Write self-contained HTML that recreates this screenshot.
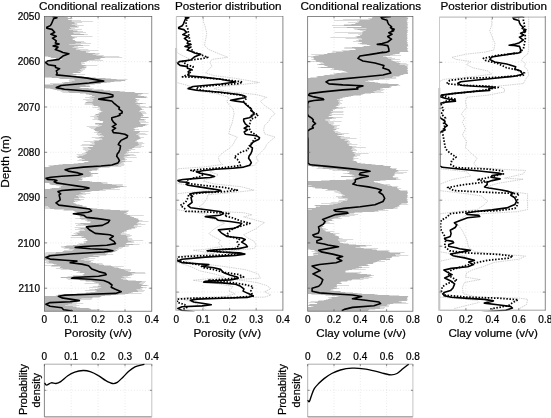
<!DOCTYPE html>
<html><head><meta charset="utf-8"><title>figure</title><style>html,body{margin:0;padding:0;background:#fff;overflow:hidden}</style></head><body>
<svg width="551" height="418" viewBox="0 0 551 418" style="display:block;position:absolute;left:0;top:0">
<rect width="551" height="418" fill="#fff"/>
<clipPath id="c0"><rect x="44.4" y="16.4" width="107.4" height="294.8"/></clipPath>
<g clip-path="url(#c0)"><line x1="71.2" y1="16.4" x2="71.2" y2="311.2" stroke="#d6d6d6" stroke-width="0.7" stroke-dasharray="0.7 2.1"/><line x1="98.1" y1="16.4" x2="98.1" y2="311.2" stroke="#d6d6d6" stroke-width="0.7" stroke-dasharray="0.7 2.1"/><line x1="125.0" y1="16.4" x2="125.0" y2="311.2" stroke="#d6d6d6" stroke-width="0.7" stroke-dasharray="0.7 2.1"/><line x1="44.4" y1="61.7" x2="151.8" y2="61.7" stroke="#d6d6d6" stroke-width="0.7" stroke-dasharray="0.7 2.1"/><line x1="44.4" y1="107.0" x2="151.8" y2="107.0" stroke="#d6d6d6" stroke-width="0.7" stroke-dasharray="0.7 2.1"/><line x1="44.4" y1="152.3" x2="151.8" y2="152.3" stroke="#d6d6d6" stroke-width="0.7" stroke-dasharray="0.7 2.1"/><line x1="44.4" y1="197.6" x2="151.8" y2="197.6" stroke="#d6d6d6" stroke-width="0.7" stroke-dasharray="0.7 2.1"/><line x1="44.4" y1="242.9" x2="151.8" y2="242.9" stroke="#d6d6d6" stroke-width="0.7" stroke-dasharray="0.7 2.1"/><line x1="44.4" y1="288.2" x2="151.8" y2="288.2" stroke="#d6d6d6" stroke-width="0.7" stroke-dasharray="0.7 2.1"/><polygon points="44.4,16.4 44.4,16.9 44.4,16.9 44.4,17.4 44.4,17.4 44.4,17.9 44.4,17.9 44.4,18.4 44.4,18.4 44.4,18.9 44.4,18.9 44.4,19.4 44.4,19.4 44.4,19.9 44.4,19.9 44.4,20.4 44.4,20.4 44.4,20.9 44.4,20.9 44.4,21.4 44.4,21.4 44.4,21.9 44.4,21.9 44.4,22.4 44.4,22.4 44.4,22.9 44.4,22.9 44.4,23.4 44.4,23.4 44.4,23.9 44.4,23.9 44.4,24.4 44.4,24.4 44.4,24.9 44.4,24.9 44.4,25.4 44.4,25.4 44.4,25.9 44.4,25.9 44.4,26.4 44.4,26.4 44.4,26.9 44.4,26.9 44.4,27.4 44.4,27.4 44.4,27.9 44.4,27.9 44.4,28.4 44.4,28.4 44.4,28.9 44.4,28.9 44.4,29.4 44.4,29.4 44.4,29.9 44.4,29.9 44.4,30.4 44.4,30.4 44.4,30.9 44.4,30.9 44.4,31.4 44.4,31.4 44.4,31.9 44.4,31.9 44.4,32.4 44.4,32.4 44.4,32.9 44.4,32.9 44.4,33.4 44.4,33.4 44.4,33.9 44.4,33.9 44.4,34.4 44.4,34.4 44.4,34.9 44.4,34.9 44.4,35.4 44.4,35.4 44.4,35.9 44.4,35.9 44.4,36.4 44.4,36.4 44.4,36.9 44.4,36.9 44.4,37.4 44.4,37.4 44.4,37.9 44.4,37.9 44.4,38.4 44.4,38.4 44.4,38.9 44.4,38.9 44.4,39.4 44.4,39.4 44.4,39.9 44.4,39.9 44.4,40.4 44.4,40.4 44.4,40.9 44.4,40.9 44.4,41.4 44.4,41.4 44.4,41.9 44.4,41.9 44.4,42.4 44.4,42.4 44.4,42.9 44.4,42.9 44.4,43.4 44.4,43.4 44.4,43.9 44.4,43.9 44.4,44.4 44.4,44.4 44.4,44.9 44.4,44.9 44.4,45.4 44.4,45.4 44.4,45.9 44.4,45.9 44.4,46.4 44.4,46.4 44.4,46.9 44.4,46.9 44.4,47.4 44.4,47.4 44.4,47.9 44.4,47.9 44.4,48.4 44.4,48.4 44.4,48.9 44.4,48.9 44.4,49.4 44.4,49.4 44.4,49.9 44.4,49.9 44.4,50.4 44.4,50.4 44.4,50.9 44.4,50.9 44.4,51.4 44.4,51.4 44.4,51.9 44.4,51.9 44.4,52.4 44.4,52.4 44.4,52.9 44.4,52.9 44.4,53.4 44.4,53.4 44.4,53.9 44.4,53.9 44.4,54.4 44.4,54.4 44.4,54.9 44.4,54.9 44.4,55.4 44.4,55.4 44.4,55.9 44.4,55.9 44.4,56.4 48.1,56.4 48.1,56.9 50.9,56.9 50.9,57.4 50.7,57.4 50.7,57.9 56.4,57.9 56.4,58.4 55.6,58.4 55.6,58.9 62.2,58.9 62.2,59.4 60.5,59.4 60.5,59.9 49.6,59.9 49.6,60.4 54.8,60.4 54.8,60.9 50.6,60.9 50.6,61.4 49.3,61.4 49.3,61.9 44.4,61.9 44.4,62.4 44.4,62.4 44.4,62.9 44.4,62.9 44.4,63.4 44.4,63.4 44.4,63.9 44.4,63.9 44.4,64.4 44.4,64.4 44.4,64.9 44.4,64.9 44.4,65.4 44.4,65.4 44.4,65.9 44.4,65.9 44.4,66.4 44.4,66.4 44.4,66.9 44.4,66.9 44.4,67.4 44.4,67.4 44.4,67.9 44.4,67.9 44.4,68.4 44.4,68.4 44.4,68.9 44.4,68.9 44.4,69.4 44.4,69.4 44.4,69.9 44.4,69.9 44.4,70.4 44.4,70.4 44.4,70.9 44.4,70.9 44.4,71.4 44.4,71.4 44.4,71.9 44.4,71.9 44.4,72.4 44.4,72.4 44.4,72.9 44.4,72.9 44.4,73.4 44.4,73.4 44.4,73.9 44.4,73.9 44.4,74.4 44.4,74.4 44.4,74.9 44.4,74.9 44.4,75.4 44.4,75.4 44.4,75.9 44.4,75.9 44.4,76.4 44.4,76.4 44.4,76.9 44.4,76.9 44.4,77.4 51.8,77.4 51.8,77.9 58.8,77.9 58.8,78.4 60.2,78.4 60.2,78.9 69.5,78.9 69.5,79.4 74.4,79.4 74.4,79.9 68.7,79.9 68.7,80.4 74.7,80.4 74.7,80.9 69.2,80.9 69.2,81.4 71.9,81.4 71.9,81.9 64.6,81.9 64.6,82.4 61.8,82.4 61.8,82.9 63.2,82.9 63.2,83.4 49.9,83.4 49.9,83.9 53.0,83.9 53.0,84.4 44.4,84.4 44.4,84.9 44.4,84.9 44.4,85.4 44.4,85.4 44.4,85.9 44.4,85.9 44.4,86.4 44.4,86.4 44.4,86.9 44.4,86.9 44.4,87.4 44.4,87.4 44.4,87.9 45.7,87.9 45.7,88.4 50.4,88.4 50.4,88.9 52.7,88.9 52.7,89.4 54.8,89.4 54.8,89.9 57.1,89.9 57.1,90.4 61.8,90.4 61.8,90.9 68.1,90.9 68.1,91.4 60.6,91.4 60.6,91.9 62.4,91.9 62.4,92.4 69.4,92.4 69.4,92.9 85.7,92.9 85.7,93.4 80.0,93.4 80.0,93.9 86.2,93.9 86.2,94.4 89.0,94.4 89.0,94.9 91.9,94.9 91.9,95.4 92.0,95.4 92.0,95.9 94.7,95.9 94.7,96.4 89.9,96.4 89.9,96.9 85.1,96.9 85.1,97.4 91.7,97.4 91.7,97.9 89.6,97.9 89.6,98.4 94.3,98.4 94.3,98.9 92.7,98.9 92.7,99.4 83.1,99.4 83.1,99.9 93.3,99.9 93.3,100.4 85.7,100.4 85.7,100.9 87.3,100.9 87.3,101.4 92.7,101.4 92.7,101.9 85.5,101.9 85.5,102.4 85.6,102.4 85.6,102.9 84.8,102.9 84.8,103.4 92.3,103.4 92.3,103.9 84.6,103.9 84.6,104.4 93.2,104.4 93.2,104.9 92.4,104.9 92.4,105.4 94.0,105.4 94.0,105.9 98.0,105.9 98.0,106.4 98.5,106.4 98.5,106.9 99.9,106.9 99.9,107.4 92.7,107.4 92.7,107.9 98.5,107.9 98.5,108.4 100.2,108.4 100.2,108.9 97.4,108.9 97.4,109.4 100.3,109.4 100.3,109.9 100.8,109.9 100.8,110.4 99.2,110.4 99.2,110.9 100.9,110.9 100.9,111.4 102.5,111.4 102.5,111.9 99.0,111.9 99.0,112.4 100.5,112.4 100.5,112.9 97.8,112.9 97.8,113.4 99.5,113.4 99.5,113.9 95.7,113.9 95.7,114.4 95.3,114.4 95.3,114.9 98.9,114.9 98.9,115.4 94.3,115.4 94.3,115.9 96.8,115.9 96.8,116.4 90.3,116.4 90.3,116.9 98.2,116.9 98.2,117.4 93.8,117.4 93.8,117.9 98.5,117.9 98.5,118.4 94.3,118.4 94.3,118.9 92.5,118.9 92.5,119.4 97.9,119.4 97.9,119.9 99.6,119.9 99.6,120.4 99.5,120.4 99.5,120.9 102.8,120.9 102.8,121.4 103.2,121.4 103.2,121.9 103.0,121.9 103.0,122.4 102.6,122.4 102.6,122.9 95.2,122.9 95.2,123.4 95.1,123.4 95.1,123.9 95.3,123.9 95.3,124.4 99.2,124.4 99.2,124.9 101.9,124.9 101.9,125.4 97.9,125.4 97.9,125.9 99.6,125.9 99.6,126.4 86.8,126.4 86.8,126.9 96.3,126.9 96.3,127.4 89.2,127.4 89.2,127.9 95.2,127.9 95.2,128.4 90.8,128.4 90.8,128.9 93.5,128.9 93.5,129.4 94.2,129.4 94.2,129.9 94.8,129.9 94.8,130.4 94.9,130.4 94.9,130.9 96.3,130.9 96.3,131.4 98.7,131.4 98.7,131.9 93.9,131.9 93.9,132.4 97.7,132.4 97.7,132.9 97.0,132.9 97.0,133.4 101.4,133.4 101.4,133.9 96.4,133.9 96.4,134.4 99.8,134.4 99.8,134.9 97.9,134.9 97.9,135.4 102.7,135.4 102.7,135.9 100.6,135.9 100.6,136.4 103.9,136.4 103.9,136.9 91.7,136.9 91.7,137.4 99.2,137.4 99.2,137.9 95.3,137.9 95.3,138.4 101.8,138.4 101.8,138.9 102.4,138.9 102.4,139.4 99.6,139.4 99.6,139.9 99.0,139.9 99.0,140.4 93.5,140.4 93.5,140.9 83.7,140.9 83.7,141.4 94.8,141.4 94.8,141.9 90.3,141.9 90.3,142.4 94.2,142.4 94.2,142.9 91.7,142.9 91.7,143.4 94.6,143.4 94.6,143.9 81.9,143.9 81.9,144.4 94.7,144.4 94.7,144.9 89.7,144.9 89.7,145.4 80.6,145.4 80.6,145.9 93.2,145.9 93.2,146.4 92.6,146.4 92.6,146.9 87.9,146.9 87.9,147.4 82.6,147.4 82.6,147.9 83.4,147.9 83.4,148.4 89.4,148.4 89.4,148.9 91.0,148.9 91.0,149.4 82.8,149.4 82.8,149.9 88.4,149.9 88.4,150.4 84.8,150.4 84.8,150.9 87.6,150.9 87.6,151.4 85.9,151.4 85.9,151.9 84.4,151.9 84.4,152.4 85.7,152.4 85.7,152.9 86.8,152.9 86.8,153.4 82.0,153.4 82.0,153.9 76.6,153.9 76.6,154.4 85.4,154.4 85.4,154.9 83.3,154.9 83.3,155.4 78.5,155.4 78.5,155.9 79.3,155.9 79.3,156.4 76.5,156.4 76.5,156.9 77.1,156.9 77.1,157.4 77.9,157.4 77.9,157.9 81.9,157.9 81.9,158.4 81.4,158.4 81.4,158.9 79.3,158.9 79.3,159.4 84.5,159.4 84.5,159.9 81.9,159.9 81.9,160.4 77.4,160.4 77.4,160.9 87.8,160.9 87.8,161.4 88.7,161.4 88.7,161.9 84.6,161.9 84.6,162.4 83.6,162.4 83.6,162.9 78.2,162.9 78.2,163.4 73.7,163.4 73.7,163.9 62.6,163.9 62.6,164.4 58.4,164.4 58.4,164.9 53.6,164.9 53.6,165.4 48.5,165.4 48.5,165.9 50.1,165.9 50.1,166.4 48.5,166.4 48.5,166.9 44.4,166.9 44.4,167.4 44.4,167.4 44.4,167.9 44.4,167.9 44.4,168.4 44.4,168.4 44.4,168.9 44.4,168.9 44.4,169.4 44.4,169.4 44.4,169.9 44.4,169.9 44.4,170.4 44.4,170.4 44.4,170.9 44.4,170.9 44.4,171.4 44.4,171.4 44.4,171.9 44.4,171.9 44.4,172.4 44.4,172.4 44.4,172.9 44.4,172.9 44.4,173.4 44.4,173.4 44.4,173.9 44.4,173.9 44.4,174.4 44.4,174.4 44.4,174.9 44.4,174.9 44.4,175.4 44.4,175.4 44.4,175.9 44.4,175.9 44.4,176.4 44.4,176.4 44.4,176.9 44.4,176.9 44.4,177.4 44.4,177.4 44.4,177.9 44.4,177.9 44.4,178.4 44.4,178.4 44.4,178.9 44.4,178.9 44.4,179.4 44.4,179.4 44.4,179.9 44.4,179.9 44.4,180.4 44.4,180.4 44.4,180.9 44.4,180.9 44.4,181.4 44.4,181.4 44.4,181.9 44.4,181.9 44.4,182.4 44.4,182.4 44.4,182.9 49.0,182.9 49.0,183.4 50.1,183.4 50.1,183.9 51.4,183.9 51.4,184.4 49.7,184.4 49.7,184.9 56.4,184.9 56.4,185.4 62.5,185.4 62.5,185.9 59.6,185.9 59.6,186.4 61.0,186.4 61.0,186.9 60.7,186.9 60.7,187.4 58.9,187.4 58.9,187.9 51.8,187.9 51.8,188.4 50.1,188.4 50.1,188.9 44.4,188.9 44.4,189.4 44.4,189.4 44.4,189.9 44.4,189.9 44.4,190.4 44.4,190.4 44.4,190.9 44.4,190.9 44.4,191.4 44.4,191.4 44.4,191.9 44.4,191.9 44.4,192.4 44.4,192.4 44.4,192.9 44.4,192.9 44.4,193.4 44.4,193.4 44.4,193.9 44.4,193.9 44.4,194.4 44.4,194.4 44.4,194.9 44.4,194.9 44.4,195.4 44.4,195.4 44.4,195.9 44.4,195.9 44.4,196.4 44.4,196.4 44.4,196.9 44.4,196.9 44.4,197.4 44.4,197.4 44.4,197.9 44.4,197.9 44.4,198.4 44.4,198.4 44.4,198.9 44.4,198.9 44.4,199.4 44.4,199.4 44.4,199.9 44.4,199.9 44.4,200.4 44.4,200.4 44.4,200.9 44.4,200.9 44.4,201.4 44.4,201.4 44.4,201.9 44.4,201.9 44.4,202.4 44.4,202.4 44.4,202.9 44.4,202.9 44.4,203.4 44.4,203.4 44.4,203.9 44.4,203.9 44.4,204.4 44.4,204.4 44.4,204.9 44.4,204.9 44.4,205.4 44.4,205.4 44.4,205.9 44.4,205.9 44.4,206.4 48.1,206.4 48.1,206.9 44.4,206.9 44.4,207.4 49.4,207.4 49.4,207.9 44.9,207.9 44.9,208.4 50.2,208.4 50.2,208.9 54.2,208.9 54.2,209.4 64.3,209.4 64.3,209.9 63.4,209.9 63.4,210.4 73.3,210.4 73.3,210.9 75.4,210.9 75.4,211.4 74.4,211.4 74.4,211.9 77.0,211.9 77.0,212.4 76.6,212.4 76.6,212.9 77.5,212.9 77.5,213.4 75.4,213.4 75.4,213.9 73.4,213.9 73.4,214.4 77.6,214.4 77.6,214.9 80.8,214.9 80.8,215.4 80.8,215.4 80.8,215.9 80.0,215.9 80.0,216.4 79.5,216.4 79.5,216.9 84.3,216.9 84.3,217.4 80.1,217.4 80.1,217.9 79.8,217.9 79.8,218.4 75.3,218.4 75.3,218.9 86.8,218.9 86.8,219.4 81.2,219.4 81.2,219.9 87.6,219.9 87.6,220.4 85.0,220.4 85.0,220.9 86.8,220.9 86.8,221.4 90.7,221.4 90.7,221.9 90.0,221.9 90.0,222.4 90.6,222.4 90.6,222.9 80.4,222.9 80.4,223.4 75.1,223.4 75.1,223.9 83.5,223.9 83.5,224.4 77.7,224.4 77.7,224.9 88.1,224.9 88.1,225.4 75.9,225.4 75.9,225.9 86.8,225.9 86.8,226.4 87.2,226.4 87.2,226.9 85.2,226.9 85.2,227.4 74.7,227.4 74.7,227.9 80.5,227.9 80.5,228.4 78.5,228.4 78.5,228.9 75.0,228.9 75.0,229.4 84.2,229.4 84.2,229.9 79.8,229.9 79.8,230.4 85.1,230.4 85.1,230.9 79.5,230.9 79.5,231.4 78.3,231.4 78.3,231.9 79.6,231.9 79.6,232.4 75.6,232.4 75.6,232.9 77.1,232.9 77.1,233.4 73.5,233.4 73.5,233.9 77.7,233.9 77.7,234.4 75.3,234.4 75.3,234.9 71.6,234.9 71.6,235.4 71.7,235.4 71.7,235.9 81.1,235.9 81.1,236.4 83.6,236.4 83.6,236.9 70.7,236.9 70.7,237.4 81.7,237.4 81.7,237.9 85.7,237.9 85.7,238.4 85.5,238.4 85.5,238.9 86.7,238.9 86.7,239.4 84.1,239.4 84.1,239.9 87.5,239.9 87.5,240.4 87.2,240.4 87.2,240.9 85.6,240.9 85.6,241.4 83.5,241.4 83.5,241.9 83.9,241.9 83.9,242.4 86.1,242.4 86.1,242.9 78.8,242.9 78.8,243.4 83.9,243.4 83.9,243.9 79.7,243.9 79.7,244.4 77.0,244.4 77.0,244.9 72.9,244.9 72.9,245.4 66.4,245.4 66.4,245.9 60.9,245.9 60.9,246.4 64.4,246.4 64.4,246.9 65.3,246.9 65.3,247.4 61.5,247.4 61.5,247.9 63.7,247.9 63.7,248.4 69.5,248.4 69.5,248.9 68.8,248.9 68.8,249.4 73.8,249.4 73.8,249.9 72.5,249.9 72.5,250.4 64.0,250.4 64.0,250.9 62.4,250.9 62.4,251.4 63.2,251.4 63.2,251.9 45.6,251.9 45.6,252.4 56.0,252.4 56.0,252.9 55.4,252.9 55.4,253.4 44.4,253.4 44.4,253.9 44.5,253.9 44.5,254.4 48.3,254.4 48.3,254.9 47.8,254.9 47.8,255.4 44.4,255.4 44.4,255.9 44.4,255.9 44.4,256.4 44.4,256.4 44.4,256.9 44.4,256.9 44.4,257.4 44.4,257.4 44.4,257.9 44.4,257.9 44.4,258.4 44.4,258.4 44.4,258.9 44.4,258.9 44.4,259.4 44.4,259.4 44.4,259.9 44.4,259.9 44.4,260.4 49.3,260.4 49.3,260.9 48.5,260.9 48.5,261.4 45.8,261.4 45.8,261.9 44.5,261.9 44.5,262.4 49.0,262.4 49.0,262.9 46.8,262.9 46.8,263.4 52.7,263.4 52.7,263.9 54.0,263.9 54.0,264.4 56.5,264.4 56.5,264.9 51.8,264.9 51.8,265.4 44.4,265.4 44.4,265.9 51.1,265.9 51.1,266.4 60.7,266.4 60.7,266.9 59.7,266.9 59.7,267.4 60.0,267.4 60.0,267.9 55.9,267.9 55.9,268.4 62.7,268.4 62.7,268.9 60.6,268.9 60.6,269.4 69.5,269.4 69.5,269.9 73.3,269.9 73.3,270.4 72.6,270.4 72.6,270.9 77.9,270.9 77.9,271.4 80.3,271.4 80.3,271.9 80.0,271.9 80.0,272.4 76.5,272.4 76.5,272.9 84.0,272.9 84.0,273.4 84.7,273.4 84.7,273.9 83.6,273.9 83.6,274.4 82.6,274.4 82.6,274.9 83.4,274.9 83.4,275.4 72.8,275.4 72.8,275.9 73.7,275.9 73.7,276.4 67.6,276.4 67.6,276.9 60.7,276.9 60.7,277.4 60.8,277.4 60.8,277.9 70.1,277.9 70.1,278.4 66.3,278.4 66.3,278.9 67.8,278.9 67.8,279.4 79.0,279.4 79.0,279.9 85.4,279.9 85.4,280.4 80.2,280.4 80.2,280.9 92.6,280.9 92.6,281.4 85.7,281.4 85.7,281.9 94.1,281.9 94.1,282.4 95.6,282.4 95.6,282.9 98.7,282.9 98.7,283.4 84.5,283.4 84.5,283.9 98.6,283.9 98.6,284.4 98.6,284.4 98.6,284.9 98.6,284.9 98.6,285.4 100.6,285.4 100.6,285.9 98.0,285.9 98.0,286.4 92.8,286.4 92.8,286.9 89.3,286.9 89.3,287.4 101.2,287.4 101.2,287.9 97.4,287.9 97.4,288.4 99.2,288.4 99.2,288.9 89.4,288.9 89.4,289.4 95.0,289.4 95.0,289.9 96.4,289.9 96.4,290.4 84.8,290.4 84.8,290.9 96.8,290.9 96.8,291.4 94.9,291.4 94.9,291.9 85.9,291.9 85.9,292.4 90.4,292.4 90.4,292.9 76.8,292.9 76.8,293.4 85.6,293.4 85.6,293.9 82.3,293.9 82.3,294.4 58.3,294.4 58.3,294.9 63.9,294.9 63.9,295.4 55.8,295.4 55.8,295.9 44.4,295.9 44.4,296.4 44.4,296.4 44.4,296.9 44.4,296.9 44.4,297.4 44.4,297.4 44.4,297.9 44.4,297.9 44.4,298.4 44.4,298.4 44.4,298.9 44.4,298.9 44.4,299.4 44.4,299.4 44.4,299.9 44.4,299.9 44.4,300.4 44.4,300.4 44.4,300.9 44.4,300.9 44.4,301.4 44.4,301.4 44.4,301.9 44.4,301.9 44.4,302.4 44.4,302.4 44.4,302.9 44.4,302.9 44.4,303.4 44.4,303.4 44.4,303.9 44.4,303.9 44.4,304.4 44.4,304.4 44.4,304.9 44.4,304.9 44.4,305.4 44.4,305.4 44.4,305.9 44.4,305.9 44.4,306.4 44.4,306.4 44.4,306.9 44.4,306.9 44.4,307.4 44.4,307.4 44.4,307.9 44.4,307.9 44.4,308.4 44.4,308.4 44.4,308.9 44.4,308.9 44.4,309.4 44.4,309.4 44.4,309.9 44.4,309.9 44.4,310.4 44.4,310.4 44.4,310.9 44.4,310.9 44.4,311.2 112.6,311.2 112.6,310.9 96.5,310.9 96.5,310.4 103.6,310.4 103.6,309.9 99.9,309.9 99.9,309.4 91.0,309.4 91.0,308.9 88.7,308.9 88.7,308.4 90.3,308.4 90.3,307.9 80.1,307.9 80.1,307.4 76.5,307.4 76.5,306.9 76.5,306.9 76.5,306.4 72.9,306.4 72.9,305.9 79.6,305.9 79.6,305.4 65.0,305.4 65.0,304.9 76.4,304.9 76.4,304.4 68.2,304.4 68.2,303.9 83.3,303.9 83.3,303.4 72.0,303.4 72.0,302.9 72.7,302.9 72.7,302.4 77.2,302.4 77.2,301.9 75.8,301.9 75.8,301.4 78.0,301.4 78.0,300.9 77.1,300.9 77.1,300.4 76.7,300.4 76.7,299.9 91.6,299.9 91.6,299.4 79.5,299.4 79.5,298.9 81.4,298.9 81.4,298.4 92.3,298.4 92.3,297.9 92.5,297.9 92.5,297.4 99.5,297.4 99.5,296.9 100.8,296.9 100.8,296.4 101.4,296.4 101.4,295.9 104.9,295.9 104.9,295.4 110.8,295.4 110.8,294.9 118.2,294.9 118.2,294.4 124.9,294.4 124.9,293.9 128.5,293.9 128.5,293.4 141.6,293.4 141.6,292.9 131.2,292.9 131.2,292.4 133.0,292.4 133.0,291.9 143.6,291.9 143.6,291.4 138.1,291.4 138.1,290.9 144.8,290.9 144.8,290.4 137.4,290.4 137.4,289.9 136.5,289.9 136.5,289.4 142.2,289.4 142.2,288.9 140.3,288.9 140.3,288.4 141.8,288.4 141.8,287.9 142.9,287.9 142.9,287.4 146.7,287.4 146.7,286.9 141.4,286.9 141.4,286.4 140.9,286.4 140.9,285.9 148.5,285.9 148.5,285.4 146.8,285.4 146.8,284.9 141.6,284.9 141.6,284.4 143.0,284.4 143.0,283.9 144.1,283.9 144.1,283.4 139.2,283.4 139.2,282.9 140.3,282.9 140.3,282.4 145.0,282.4 145.0,281.9 141.8,281.9 141.8,281.4 145.9,281.4 145.9,280.9 135.9,280.9 135.9,280.4 128.1,280.4 128.1,279.9 126.8,279.9 126.8,279.4 122.9,279.4 122.9,278.9 126.1,278.9 126.1,278.4 121.0,278.4 121.0,277.9 130.7,277.9 130.7,277.4 124.2,277.4 124.2,276.9 122.6,276.9 122.6,276.4 127.9,276.4 127.9,275.9 129.7,275.9 129.7,275.4 131.9,275.4 131.9,274.9 132.1,274.9 132.1,274.4 133.8,274.4 133.8,273.9 131.5,273.9 131.5,273.4 145.6,273.4 145.6,272.9 145.0,272.9 145.0,272.4 135.2,272.4 135.2,271.9 127.9,271.9 127.9,271.4 129.7,271.4 129.7,270.9 125.6,270.9 125.6,270.4 131.0,270.4 131.0,269.9 123.9,269.9 123.9,269.4 130.8,269.4 130.8,268.9 121.1,268.9 121.1,268.4 119.2,268.4 119.2,267.9 118.2,267.9 118.2,267.4 114.2,267.4 114.2,266.9 112.3,266.9 112.3,266.4 123.6,266.4 123.6,265.9 111.0,265.9 111.0,265.4 104.0,265.4 104.0,264.9 103.3,264.9 103.3,264.4 99.0,264.4 99.0,263.9 102.4,263.9 102.4,263.4 95.8,263.4 95.8,262.9 93.0,262.9 93.0,262.4 89.5,262.4 89.5,261.9 90.7,261.9 90.7,261.4 91.1,261.4 91.1,260.9 84.3,260.9 84.3,260.4 93.6,260.4 93.6,259.9 80.9,259.9 80.9,259.4 89.2,259.4 89.2,258.9 95.2,258.9 95.2,258.4 83.5,258.4 83.5,257.9 89.5,257.9 89.5,257.4 87.5,257.4 87.5,256.9 99.6,256.9 99.6,256.4 98.3,256.4 98.3,255.9 93.3,255.9 93.3,255.4 106.2,255.4 106.2,254.9 113.2,254.9 113.2,254.4 106.6,254.4 106.6,253.9 105.0,253.9 105.0,253.4 107.9,253.4 107.9,252.9 111.5,252.9 111.5,252.4 112.5,252.4 112.5,251.9 115.7,251.9 115.7,251.4 115.0,251.4 115.0,250.9 117.1,250.9 117.1,250.4 117.4,250.4 117.4,249.9 115.7,249.9 115.7,249.4 118.9,249.4 118.9,248.9 117.8,248.9 117.8,248.4 121.5,248.4 121.5,247.9 118.6,247.9 118.6,247.4 122.9,247.4 122.9,246.9 128.6,246.9 128.6,246.4 124.9,246.4 124.9,245.9 129.2,245.9 129.2,245.4 125.1,245.4 125.1,244.9 133.3,244.9 133.3,244.4 139.5,244.4 139.5,243.9 125.8,243.9 125.8,243.4 126.5,243.4 126.5,242.9 127.4,242.9 127.4,242.4 133.8,242.4 133.8,241.9 133.9,241.9 133.9,241.4 131.2,241.4 131.2,240.9 143.2,240.9 143.2,240.4 128.2,240.4 128.2,239.9 132.5,239.9 132.5,239.4 127.7,239.4 127.7,238.9 131.9,238.9 131.9,238.4 127.4,238.4 127.4,237.9 127.0,237.9 127.0,237.4 128.5,237.4 128.5,236.9 127.5,236.9 127.5,236.4 130.4,236.4 130.4,235.9 126.1,235.9 126.1,235.4 131.9,235.4 131.9,234.9 129.8,234.9 129.8,234.4 120.9,234.4 120.9,233.9 126.3,233.9 126.3,233.4 120.7,233.4 120.7,232.9 122.0,232.9 122.0,232.4 124.1,232.4 124.1,231.9 126.8,231.9 126.8,231.4 124.1,231.4 124.1,230.9 126.8,230.9 126.8,230.4 126.4,230.4 126.4,229.9 128.6,229.9 128.6,229.4 131.5,229.4 131.5,228.9 135.2,228.9 135.2,228.4 131.4,228.4 131.4,227.9 137.0,227.9 137.0,227.4 134.8,227.4 134.8,226.9 141.4,226.9 141.4,226.4 133.6,226.4 133.6,225.9 137.8,225.9 137.8,225.4 134.0,225.4 134.0,224.9 145.4,224.9 145.4,224.4 137.6,224.4 137.6,223.9 136.6,223.9 136.6,223.4 141.2,223.4 141.2,222.9 137.4,222.9 137.4,222.4 138.5,222.4 138.5,221.9 138.9,221.9 138.9,221.4 148.5,221.4 148.5,220.9 139.3,220.9 139.3,220.4 142.5,220.4 142.5,219.9 138.6,219.9 138.6,219.4 138.0,219.4 138.0,218.9 138.3,218.9 138.3,218.4 136.1,218.4 136.1,217.9 133.8,217.9 133.8,217.4 134.2,217.4 134.2,216.9 131.9,216.9 131.9,216.4 130.3,216.4 130.3,215.9 143.7,215.9 143.7,215.4 129.6,215.4 129.6,214.9 126.3,214.9 126.3,214.4 127.2,214.4 127.2,213.9 124.2,213.9 124.2,213.4 127.8,213.4 127.8,212.9 126.0,212.9 126.0,212.4 126.9,212.4 126.9,211.9 127.6,211.9 127.6,211.4 128.4,211.4 128.4,210.9 128.8,210.9 128.8,210.4 120.0,210.4 120.0,209.9 110.6,209.9 110.6,209.4 103.4,209.4 103.4,208.9 92.5,208.9 92.5,208.4 97.2,208.4 97.2,207.9 87.5,207.9 87.5,207.4 86.4,207.4 86.4,206.9 86.6,206.9 86.6,206.4 82.7,206.4 82.7,205.9 82.0,205.9 82.0,205.4 82.7,205.4 82.7,204.9 79.6,204.9 79.6,204.4 76.6,204.4 76.6,203.9 76.0,203.9 76.0,203.4 74.6,203.4 74.6,202.9 73.7,202.9 73.7,202.4 73.3,202.4 73.3,201.9 75.0,201.9 75.0,201.4 77.7,201.4 77.7,200.9 74.1,200.9 74.1,200.4 80.7,200.4 80.7,199.9 84.1,199.9 84.1,199.4 79.7,199.4 79.7,198.9 74.4,198.9 74.4,198.4 78.9,198.4 78.9,197.9 78.7,197.9 78.7,197.4 85.1,197.4 85.1,196.9 78.0,196.9 78.0,196.4 83.4,196.4 83.4,195.9 76.0,195.9 76.0,195.4 81.4,195.4 81.4,194.9 86.0,194.9 86.0,194.4 79.3,194.4 79.3,193.9 90.3,193.9 90.3,193.4 82.6,193.4 82.6,192.9 80.7,192.9 80.7,192.4 85.2,192.4 85.2,191.9 89.7,191.9 89.7,191.4 91.6,191.4 91.6,190.9 99.4,190.9 99.4,190.4 105.8,190.4 105.8,189.9 103.0,189.9 103.0,189.4 119.8,189.4 119.8,188.9 111.1,188.9 111.1,188.4 114.6,188.4 114.6,187.9 117.8,187.9 117.8,187.4 120.2,187.4 120.2,186.9 123.5,186.9 123.5,186.4 126.7,186.4 126.7,185.9 122.6,185.9 122.6,185.4 116.5,185.4 116.5,184.9 111.9,184.9 111.9,184.4 122.8,184.4 122.8,183.9 107.7,183.9 107.7,183.4 102.7,183.4 102.7,182.9 107.3,182.9 107.3,182.4 101.2,182.4 101.2,181.9 89.7,181.9 89.7,181.4 92.1,181.4 92.1,180.9 82.2,180.9 82.2,180.4 78.8,180.4 78.8,179.9 82.2,179.9 82.2,179.4 82.5,179.4 82.5,178.9 80.7,178.9 80.7,178.4 82.7,178.4 82.7,177.9 81.8,177.9 81.8,177.4 85.8,177.4 85.8,176.9 89.5,176.9 89.5,176.4 92.6,176.4 92.6,175.9 92.8,175.9 92.8,175.4 90.8,175.4 90.8,174.9 90.9,174.9 90.9,174.4 92.6,174.4 92.6,173.9 97.8,173.9 97.8,173.4 98.1,173.4 98.1,172.9 91.2,172.9 91.2,172.4 90.4,172.4 90.4,171.9 90.7,171.9 90.7,171.4 89.1,171.4 89.1,170.9 97.0,170.9 97.0,170.4 92.2,170.4 92.2,169.9 98.6,169.9 98.6,169.4 97.1,169.4 97.1,168.9 97.6,168.9 97.6,168.4 98.8,168.4 98.8,167.9 100.6,167.9 100.6,167.4 109.6,167.4 109.6,166.9 110.7,166.9 110.7,166.4 121.3,166.4 121.3,165.9 117.9,165.9 117.9,165.4 123.9,165.4 123.9,164.9 124.5,164.9 124.5,164.4 118.8,164.4 118.8,163.9 120.5,163.9 120.5,163.4 123.9,163.4 123.9,162.9 123.6,162.9 123.6,162.4 121.6,162.4 121.6,161.9 132.2,161.9 132.2,161.4 125.1,161.4 125.1,160.9 121.5,160.9 121.5,160.4 125.5,160.4 125.5,159.9 124.8,159.9 124.8,159.4 127.0,159.4 127.0,158.9 124.6,158.9 124.6,158.4 125.3,158.4 125.3,157.9 136.7,157.9 136.7,157.4 123.7,157.4 123.7,156.9 127.3,156.9 127.3,156.4 124.4,156.4 124.4,155.9 129.7,155.9 129.7,155.4 136.1,155.4 136.1,154.9 134.3,154.9 134.3,154.4 124.4,154.4 124.4,153.9 125.7,153.9 125.7,153.4 128.3,153.4 128.3,152.9 139.2,152.9 139.2,152.4 126.8,152.4 126.8,151.9 128.8,151.9 128.8,151.4 126.7,151.4 126.7,150.9 131.1,150.9 131.1,150.4 129.3,150.4 129.3,149.9 128.7,149.9 128.7,149.4 135.2,149.4 135.2,148.9 132.0,148.9 132.0,148.4 132.6,148.4 132.6,147.9 141.1,147.9 141.1,147.4 134.2,147.4 134.2,146.9 135.3,146.9 135.3,146.4 144.0,146.4 144.0,145.9 141.4,145.9 141.4,145.4 137.6,145.4 137.6,144.9 138.9,144.9 138.9,144.4 141.8,144.4 141.8,143.9 144.4,143.9 144.4,143.4 138.3,143.4 138.3,142.9 142.9,142.9 142.9,142.4 137.7,142.4 137.7,141.9 137.6,141.9 137.6,141.4 135.3,141.4 135.3,140.9 136.9,140.9 136.9,140.4 136.5,140.4 136.5,139.9 139.1,139.9 139.1,139.4 137.7,139.4 137.7,138.9 141.1,138.9 141.1,138.4 140.0,138.4 140.0,137.9 139.7,137.9 139.7,137.4 143.9,137.4 143.9,136.9 139.9,136.9 139.9,136.4 138.7,136.4 138.7,135.9 138.1,135.9 138.1,135.4 139.3,135.4 139.3,134.9 147.4,134.9 147.4,134.4 136.2,134.4 136.2,133.9 145.4,133.9 145.4,133.4 137.7,133.4 137.7,132.9 139.4,132.9 139.4,132.4 139.4,132.4 139.4,131.9 140.0,131.9 140.0,131.4 148.5,131.4 148.5,130.9 133.7,130.9 133.7,130.4 135.0,130.4 135.0,129.9 134.9,129.9 134.9,129.4 138.9,129.4 138.9,128.9 133.7,128.9 133.7,128.4 134.7,128.4 134.7,127.9 138.1,127.9 138.1,127.4 135.7,127.4 135.7,126.9 142.6,126.9 142.6,126.4 143.1,126.4 143.1,125.9 145.0,125.9 145.0,125.4 146.6,125.4 146.6,124.9 148.5,124.9 148.5,124.4 145.6,124.4 145.6,123.9 140.9,123.9 140.9,123.4 140.2,123.4 140.2,122.9 148.5,122.9 148.5,122.4 140.0,122.4 140.0,121.9 146.0,121.9 146.0,121.4 139.1,121.4 139.1,120.9 139.3,120.9 139.3,120.4 144.7,120.4 144.7,119.9 146.0,119.9 146.0,119.4 144.1,119.4 144.1,118.9 140.1,118.9 140.1,118.4 141.1,118.4 141.1,117.9 148.5,117.9 148.5,117.4 148.5,117.4 148.5,116.9 143.0,116.9 143.0,116.4 141.0,116.4 141.0,115.9 144.0,115.9 144.0,115.4 143.1,115.4 143.1,114.9 142.5,114.9 142.5,114.4 142.9,114.4 142.9,113.9 142.1,113.9 142.1,113.4 146.6,113.4 146.6,112.9 145.9,112.9 145.9,112.4 140.9,112.4 140.9,111.9 139.1,111.9 139.1,111.4 144.7,111.4 144.7,110.9 139.8,110.9 139.8,110.4 140.5,110.4 140.5,109.9 143.7,109.9 143.7,109.4 142.0,109.4 142.0,108.9 142.0,108.9 142.0,108.4 140.9,108.4 140.9,107.9 148.5,107.9 148.5,107.4 140.6,107.4 140.6,106.9 139.5,106.9 139.5,106.4 145.3,106.4 145.3,105.9 140.3,105.9 140.3,105.4 138.4,105.4 138.4,104.9 136.5,104.9 136.5,104.4 140.0,104.4 140.0,103.9 142.6,103.9 142.6,103.4 145.9,103.4 145.9,102.9 135.3,102.9 135.3,102.4 137.9,102.4 137.9,101.9 136.4,101.9 136.4,101.4 137.4,101.4 137.4,100.9 135.8,100.9 135.8,100.4 138.7,100.4 138.7,99.9 136.9,99.9 136.9,99.4 139.4,99.4 139.4,98.9 135.7,98.9 135.7,98.4 135.3,98.4 135.3,97.9 145.9,97.9 145.9,97.4 147.5,97.4 147.5,96.9 146.8,96.9 146.8,96.4 144.0,96.4 144.0,95.9 140.6,95.9 140.6,95.4 137.7,95.4 137.7,94.9 138.1,94.9 138.1,94.4 141.4,94.4 141.4,93.9 142.7,93.9 142.7,93.4 148.4,93.4 148.4,92.9 134.3,92.9 134.3,92.4 135.3,92.4 135.3,91.9 119.7,91.9 119.7,91.4 125.1,91.4 125.1,90.9 110.2,90.9 110.2,90.4 103.6,90.4 103.6,89.9 103.3,89.9 103.3,89.4 91.8,89.4 91.8,88.9 93.6,88.9 93.6,88.4 88.6,88.4 88.6,87.9 79.5,87.9 79.5,87.4 80.6,87.4 80.6,86.9 89.6,86.9 89.6,86.4 90.5,86.4 90.5,85.9 85.7,85.9 85.7,85.4 89.8,85.4 89.8,84.9 88.7,84.9 88.7,84.4 94.7,84.4 94.7,83.9 100.7,83.9 100.7,83.4 100.8,83.4 100.8,82.9 106.6,82.9 106.6,82.4 110.6,82.4 110.6,81.9 114.2,81.9 114.2,81.4 121.3,81.4 121.3,80.9 125.0,80.9 125.0,80.4 125.5,80.4 125.5,79.9 127.4,79.9 127.4,79.4 116.6,79.4 116.6,78.9 111.1,78.9 111.1,78.4 105.5,78.4 105.5,77.9 95.6,77.9 95.6,77.4 89.1,77.4 89.1,76.9 84.3,76.9 84.3,76.4 82.2,76.4 82.2,75.9 76.4,75.9 76.4,75.4 70.5,75.4 70.5,74.9 85.1,74.9 85.1,74.4 76.3,74.4 76.3,73.9 72.5,73.9 72.5,73.4 73.3,73.4 73.3,72.9 80.2,72.9 80.2,72.4 80.7,72.4 80.7,71.9 78.2,71.9 78.2,71.4 82.3,71.4 82.3,70.9 80.9,70.9 80.9,70.4 83.2,70.4 83.2,69.9 79.8,69.9 79.8,69.4 84.8,69.4 84.8,68.9 85.4,68.9 85.4,68.4 81.9,68.4 81.9,67.9 86.5,67.9 86.5,67.4 85.7,67.4 85.7,66.9 83.8,66.9 83.8,66.4 86.6,66.4 86.6,65.9 85.6,65.9 85.6,65.4 97.3,65.4 97.3,64.9 82.4,64.9 82.4,64.4 81.3,64.4 81.3,63.9 85.0,63.9 85.0,63.4 81.1,63.4 81.1,62.9 81.0,62.9 81.0,62.4 83.7,62.4 83.7,61.9 85.8,61.9 85.8,61.4 87.3,61.4 87.3,60.9 88.5,60.9 88.5,60.4 103.0,60.4 103.0,59.9 100.1,59.9 100.1,59.4 94.6,59.4 94.6,58.9 99.7,58.9 99.7,58.4 101.0,58.4 101.0,57.9 104.7,57.9 104.7,57.4 122.2,57.4 122.2,56.9 119.3,56.9 119.3,56.4 102.5,56.4 102.5,55.9 103.8,55.9 103.8,55.4 96.4,55.4 96.4,54.9 98.6,54.9 98.6,54.4 92.6,54.4 92.6,53.9 99.7,53.9 99.7,53.4 95.1,53.4 95.1,52.9 88.4,52.9 88.4,52.4 85.9,52.4 85.9,51.9 85.9,51.9 85.9,51.4 89.8,51.4 89.8,50.9 80.4,50.9 80.4,50.4 98.2,50.4 98.2,49.9 88.3,49.9 88.3,49.4 75.9,49.4 75.9,48.9 76.5,48.9 76.5,48.4 78.7,48.4 78.7,47.9 83.6,47.9 83.6,47.4 72.5,47.4 72.5,46.9 77.9,46.9 77.9,46.4 74.2,46.4 74.2,45.9 82.9,45.9 82.9,45.4 89.5,45.4 89.5,44.9 80.7,44.9 80.7,44.4 69.2,44.4 69.2,43.9 75.4,43.9 75.4,43.4 91.0,43.4 91.0,42.9 81.0,42.9 81.0,42.4 85.7,42.4 85.7,41.9 76.1,41.9 76.1,41.4 84.1,41.4 84.1,40.9 74.8,40.9 74.8,40.4 75.1,40.4 75.1,39.9 72.4,39.9 72.4,39.4 73.0,39.4 73.0,38.9 74.7,38.9 74.7,38.4 72.7,38.4 72.7,37.9 77.0,37.9 77.0,37.4 74.5,37.4 74.5,36.9 92.5,36.9 92.5,36.4 72.1,36.4 72.1,35.9 71.3,35.9 71.3,35.4 70.9,35.4 70.9,34.9 83.9,34.9 83.9,34.4 87.8,34.4 87.8,33.9 73.7,33.9 73.7,33.4 80.3,33.4 80.3,32.9 72.9,32.9 72.9,32.4 86.0,32.4 86.0,31.9 77.5,31.9 77.5,31.4 83.0,31.4 83.0,30.9 77.4,30.9 77.4,30.4 73.2,30.4 73.2,29.9 81.9,29.9 81.9,29.4 69.0,29.4 69.0,28.9 71.1,28.9 71.1,28.4 74.8,28.4 74.8,27.9 78.5,27.9 78.5,27.4 70.0,27.4 70.0,26.9 77.0,26.9 77.0,26.4 78.8,26.4 78.8,25.9 75.1,25.9 75.1,25.4 83.7,25.4 83.7,24.9 77.3,24.9 77.3,24.4 71.7,24.4 71.7,23.9 77.2,23.9 77.2,23.4 74.6,23.4 74.6,22.9 82.1,22.9 82.1,22.4 74.3,22.4 74.3,21.9 92.8,21.9 92.8,21.4 71.7,21.4 71.7,20.9 71.7,20.9 71.7,20.4 81.0,20.4 81.0,19.9 68.4,19.9 68.4,19.4 67.9,19.4 67.9,18.9 72.5,18.9 72.5,18.4 71.0,18.4 71.0,17.9 67.4,17.9 67.4,17.4 68.0,17.4 68.0,16.9 64.5,16.9 64.5,16.4" fill="#b5b5b5"/><path d="M52.5 16.4 L56.9 17.7 L53.6 18.8 L51.4 24.0 L50.3 25.6 L46.8 27.3 L46.8 28.3 L52.0 29.4 L54.7 32.2 L50.9 34.3 L56.3 36.2 L52.5 38.1 L56.3 40.9 L55.3 43.0 L59.1 44.1 L53.1 46.0 L58.0 47.1 L55.3 49.6 L60.2 51.2 L62.9 52.5 L68.9 53.8 L62.9 56.1 L58.8 59.4 L47.4 61.0 L45.7 62.6 L48.2 64.7 L55.5 65.9 L55.5 67.5 L59.6 68.7 L56.3 70.8 L57.2 73.2 L56.3 74.9 L72.7 76.5 L87.4 78.1 L103.7 81.1 L89.0 83.0 L61.2 85.5 L56.3 87.6 L64.5 89.2 L89.0 91.2 L108.6 93.7 L112.9 95.0 L112.9 96.6 L106.3 97.7 L98.7 99.1 L104.2 99.9 L111.8 101.0 L114.5 103.7 L117.2 105.9 L119.4 107.5 L118.9 109.2 L122.1 111.3 L122.1 113.0 L119.4 114.1 L120.0 115.2 L117.2 116.2 L111.8 117.7 L111.8 119.5 L113.4 122.2 L116.1 124.4 L112.3 126.6 L115.6 128.2 L112.3 130.4 L113.4 132.6 L119.4 133.3 L124.9 134.2 L127.6 135.8 L127.0 137.5 L121.0 140.4 L118.9 143.2 L118.3 144.6 L120.5 145.9 L120.0 149.2 L118.9 151.9 L117.2 154.1 L116.7 156.2 L118.3 158.4 L119.4 160.6 L117.8 163.1 L111.8 165.0 L100.9 166.0 L83.6 167.1 L70.5 168.5 L65.1 169.8 L68.3 171.1 L78.1 172.9 L82.5 174.2 L78.1 175.3 L61.8 176.3 L50.9 177.2 L46.0 178.3 L47.6 179.4 L54.2 179.8 L56.9 180.5 L54.2 181.8 L56.3 182.9 L67.2 184.5 L78.1 186.1 L85.8 187.2 L89.0 188.1 L83.6 189.2 L72.7 189.6 L61.8 190.5 L58.0 191.6 L59.1 192.7 L60.7 193.8 L59.1 194.9 L59.6 197.0 L60.2 199.8 L56.0 202.9 L58.9 205.1 L76.3 207.3 L89.4 209.0 L91.5 210.9 L87.9 212.3 L73.4 213.8 L83.6 215.2 L86.5 217.4 L98.1 218.6 L109.7 220.3 L108.2 222.5 L102.4 225.4 L86.5 226.9 L89.4 229.8 L95.2 233.4 L109.7 234.8 L113.3 236.3 L109.7 238.9 L114.0 241.4 L115.5 243.6 L106.8 245.3 L83.6 246.5 L75.2 247.4 L90.3 248.7 L107.0 249.5 L112.9 250.7 L103.7 252.0 L73.5 253.7 L50.1 255.7 L45.9 257.4 L50.1 259.1 L65.1 260.2 L76.9 261.1 L70.2 262.8 L81.9 264.1 L88.6 265.8 L91.9 269.1 L98.6 271.6 L105.3 273.3 L106.2 274.7 L98.6 276.2 L73.5 277.5 L71.8 278.3 L90.3 279.2 L103.7 280.5 L108.7 282.5 L112.0 285.0 L111.2 287.2 L115.4 289.2 L121.2 291.7 L115.4 293.4 L90.3 294.3 L65.1 295.1 L58.4 296.3 L61.8 297.9 L73.5 299.6 L79.4 300.6 L70.2 301.8 L50.1 302.6 L45.9 304.3 L50.1 306.3 L61.8 307.7 L63.5 309.7 L72.7 311.0" fill="none" stroke="#000" stroke-width="1.6" stroke-linejoin="round"/></g>
<rect x="44.4" y="16.4" width="107.4" height="294.8" fill="none" stroke="#555" stroke-width="0.7"/>
<path d="M71.2 311.2 v-2 M71.2 16.4 v2 M98.1 311.2 v-2 M98.1 16.4 v2 M125.0 311.2 v-2 M125.0 16.4 v2 M44.4 61.7 h2.6 M151.8 61.7 h-2.6 M44.4 107.0 h2.6 M151.8 107.0 h-2.6 M44.4 152.3 h2.6 M151.8 152.3 h-2.6 M44.4 197.6 h2.6 M151.8 197.6 h-2.6 M44.4 242.9 h2.6 M151.8 242.9 h-2.6 M44.4 288.2 h2.6 M151.8 288.2 h-2.6" stroke="#555" stroke-width="0.7" fill="none"/>
<clipPath id="c1"><rect x="176.3" y="16.4" width="106.6" height="294.8"/></clipPath>
<g clip-path="url(#c1)"><line x1="202.9" y1="16.4" x2="202.9" y2="311.2" stroke="#d6d6d6" stroke-width="0.7" stroke-dasharray="0.7 2.1"/><line x1="229.6" y1="16.4" x2="229.6" y2="311.2" stroke="#d6d6d6" stroke-width="0.7" stroke-dasharray="0.7 2.1"/><line x1="256.2" y1="16.4" x2="256.2" y2="311.2" stroke="#d6d6d6" stroke-width="0.7" stroke-dasharray="0.7 2.1"/><line x1="176.3" y1="62.3" x2="282.9" y2="62.3" stroke="#d6d6d6" stroke-width="0.7" stroke-dasharray="0.7 2.1"/><line x1="176.3" y1="108.3" x2="282.9" y2="108.3" stroke="#d6d6d6" stroke-width="0.7" stroke-dasharray="0.7 2.1"/><line x1="176.3" y1="154.2" x2="282.9" y2="154.2" stroke="#d6d6d6" stroke-width="0.7" stroke-dasharray="0.7 2.1"/><line x1="176.3" y1="200.2" x2="282.9" y2="200.2" stroke="#d6d6d6" stroke-width="0.7" stroke-dasharray="0.7 2.1"/><line x1="176.3" y1="246.2" x2="282.9" y2="246.2" stroke="#d6d6d6" stroke-width="0.7" stroke-dasharray="0.7 2.1"/><line x1="176.3" y1="292.1" x2="282.9" y2="292.1" stroke="#d6d6d6" stroke-width="0.7" stroke-dasharray="0.7 2.1"/><path d="M203.6 17.3 L203.2 21.5 L204.6 24.6 L205.7 28.8 L206.7 33.1 L206.1 37.3 L205.1 41.5 L204.6 45.7 L208.8 49.5 L217.3 53.1 L227.8 57.3 L212.0 59.4 L209.9 62.5 L212.0 66.3 L208.8 69.3 L205.7 73.1 L214.1 75.6 L235.2 78.3 L259.4 82.5 L241.5 84.6 L220.4 86.7 L214.1 88.8 L230.9 92.0 L256.2 94.5 L266.7 97.3 L264.6 98.2 L260.4 101.3 L264.6 105.5 L270.9 109.7 L275.2 113.9 L270.9 117.1 L268.8 121.3 L264.6 125.5 L263.6 129.7 L264.6 133.9 L275.2 137.1 L270.9 140.3 L266.7 144.5 L264.6 148.7 L260.4 152.9 L256.2 157.1 L258.3 161.3 L254.1 165.5 L235.2 167.6 L214.1 169.7 L209.9 171.8 L218.3 174.6 L214.1 177.5 L203.6 180.3 L203.6 181.2 L214.1 183.9 L241.5 186.8 L254.1 190.2 L235.2 192.3 L207.8 194.8 L206.7 199.1 L203.6 203.3 L199.4 206.4 L203.6 209.6 L224.6 211.7 L243.6 212.7 L252.0 214.8 L243.6 216.9 L252.0 219.1 L264.6 222.6 L260.4 225.4 L256.2 228.5 L249.9 231.7 L243.6 234.8 L247.8 238.0 L254.1 241.2 L256.2 245.4 L254.1 248.5 L224.6 251.4 L245.7 253.5 L235.2 255.6 L203.6 257.1 L188.8 259.2 L184.6 261.3 L199.4 263.4 L224.6 266.6 L245.7 269.7 L258.3 273.9 L260.4 278.2 L235.2 279.6 L256.2 282.4 L266.7 285.5 L270.9 288.7 L264.6 291.8 L270.9 295.0 L264.6 297.1 L214.1 298.2 L182.5 299.2 L193.1 302.4 L203.6 307.6 L205.7 309.7" fill="none" stroke="#bdbdbd" stroke-width="0.7" stroke-dasharray="1.5 0.8"/><path d="M176.6 16.4 L176.6 52.0 L179.4 54.1 L184.6 56.6 L192.0 60.0 L180.4 61.5 L176.6 63.6 L176.6 82.5 L184.6 84.6 L189.9 86.1 L186.7 88.8 L197.3 90.9 L218.3 94.1 L228.8 97.3 L228.8 98.2 L226.7 101.3 L228.8 104.5 L233.1 108.7 L234.1 113.9 L233.1 118.2 L232.0 123.4 L229.9 128.7 L228.8 133.9 L237.3 137.1 L235.2 140.3 L233.1 144.5 L228.8 148.7 L222.5 152.9 L218.3 157.1 L219.4 161.3 L222.5 164.5 L203.6 167.0 L178.3 168.7 L176.6 170.8 L176.6 183.3 L193.1 186.0 L209.9 188.5 L214.1 190.2 L193.1 191.9 L176.6 193.8 L176.6 209.6 L193.1 212.1 L207.8 214.2 L205.7 216.9 L216.2 220.1 L224.6 223.3 L218.3 226.4 L212.0 230.6 L208.8 233.8 L214.1 236.9 L220.4 240.1 L218.3 243.3 L222.5 246.4 L203.6 249.6 L193.1 250.2 L203.6 251.8 L214.1 253.5 L193.1 255.0 L176.6 256.5 L176.6 262.4 L184.6 264.5 L193.1 267.6 L199.4 270.8 L214.1 273.9 L224.6 277.1 L203.6 279.2 L193.1 280.3 L214.1 283.0 L233.1 286.6 L228.8 290.8 L235.2 293.9 L224.6 296.5 L176.6 298.2 L176.6 310.8" fill="none" stroke="#bdbdbd" stroke-width="0.7" stroke-dasharray="1.5 0.8"/><path d="M184.4 16.4 L188.8 17.7 L185.5 18.8 L183.3 24.1 L182.2 25.7 L178.7 27.5 L178.7 28.5 L183.9 29.6 L186.6 32.4 L182.8 34.6 L188.2 36.5 L184.4 38.4 L188.2 41.3 L187.2 43.4 L191.0 44.5 L185.0 46.4 L189.9 47.5 L187.2 50.1 L192.1 51.7 L194.8 53.0 L200.8 54.3 L194.8 56.7 L190.7 60.0 L179.3 61.6 L177.6 63.3 L180.1 65.4 L187.4 66.6 L187.4 68.2 L191.5 69.5 L188.2 71.6 L189.1 74.0 L188.2 75.7 L204.6 77.4 L219.3 79.0 L235.6 82.0 L220.9 84.0 L193.1 86.5 L188.2 88.6 L196.4 90.2 L220.9 92.3 L240.5 94.8 L244.8 96.1 L244.8 97.8 L238.2 98.9 L230.6 100.3 L236.1 101.1 L243.7 102.2 L246.4 105.0 L249.1 107.2 L251.3 108.8 L250.8 110.5 L254.0 112.7 L254.0 114.4 L251.3 115.5 L251.9 116.6 L249.1 117.7 L243.7 119.1 L243.7 121.0 L245.3 123.8 L248.0 126.0 L244.2 128.2 L247.5 129.8 L244.2 132.0 L245.3 134.2 L251.3 135.0 L256.8 135.9 L259.5 137.6 L258.9 139.2 L252.9 142.2 L250.8 145.0 L250.2 146.4 L252.4 147.8 L251.9 151.1 L250.8 153.8 L249.1 156.0 L248.6 158.2 L250.2 160.5 L251.3 162.7 L249.7 165.2 L243.7 167.1 L232.8 168.2 L215.5 169.2 L202.4 170.7 L197.0 172.0 L200.2 173.3 L210.0 175.1 L214.4 176.4 L210.0 177.5 L193.7 178.6 L182.8 179.5 L177.9 180.6 L179.5 181.7 L186.1 182.2 L188.8 182.8 L186.1 184.2 L188.2 185.3 L199.1 186.9 L210.0 188.6 L217.7 189.7 L220.9 190.6 L215.5 191.7 L204.6 192.1 L193.7 193.0 L189.9 194.1 L191.0 195.2 L192.6 196.3 L191.0 197.4 L191.5 199.6 L192.1 202.4 L187.9 205.6 L190.8 207.8 L208.2 210.0 L221.3 211.8 L223.4 213.7 L219.8 215.2 L205.3 216.6 L215.5 218.1 L218.4 220.3 L230.0 221.5 L241.6 223.3 L240.1 225.5 L234.3 228.4 L218.4 229.9 L221.3 232.8 L227.1 236.5 L241.6 238.0 L245.2 239.5 L241.6 242.1 L245.9 244.6 L247.4 246.8 L238.7 248.6 L215.5 249.8 L207.1 250.7 L222.2 252.0 L238.9 252.9 L244.8 254.1 L235.6 255.4 L205.4 257.1 L182.0 259.2 L177.8 260.9 L182.0 262.6 L197.0 263.7 L208.8 264.6 L202.1 266.3 L213.8 267.7 L220.5 269.4 L223.8 272.8 L230.5 275.3 L237.2 277.0 L238.1 278.4 L230.5 279.9 L205.4 281.2 L203.7 282.1 L222.2 282.9 L235.6 284.3 L240.6 286.3 L243.9 288.9 L243.1 291.1 L247.3 293.1 L253.1 295.7 L247.3 297.4 L222.2 298.2 L197.0 299.1 L190.3 300.3 L193.7 302.0 L205.4 303.7 L211.3 304.7 L202.1 305.9 L182.0 306.7 L177.8 308.4 L182.0 310.5 L193.7 311.8 L195.4 313.9 L204.6 315.2" fill="none" stroke="#000" stroke-width="1.6" stroke-linejoin="round"/><path d="M185.7 16.4 L186.7 20.4 L185.7 24.6 L187.8 28.8 L188.8 35.2 L189.9 41.5 L190.9 47.8 L193.1 52.0 L203.6 55.8 L207.8 57.3 L201.5 58.7 L190.9 60.0 L182.5 61.5 L186.7 64.6 L193.1 66.7 L192.0 69.9 L188.8 74.1 L182.5 76.8 L203.6 77.7 L222.5 79.4 L242.5 81.9 L239.4 83.6 L214.1 85.3 L197.3 87.4 L196.2 88.8 L205.7 90.9 L224.6 93.1 L241.5 95.2 L246.7 97.3 L246.7 98.2 L243.6 101.3 L246.7 104.5 L250.9 108.7 L253.1 112.9 L258.3 114.4 L256.2 117.1 L250.9 119.2 L249.9 123.4 L248.8 127.6 L250.9 131.8 L256.2 135.0 L255.2 138.2 L252.0 142.4 L248.8 146.6 L247.8 150.2 L241.5 151.8 L234.1 157.1 L237.3 159.2 L239.4 162.4 L240.4 165.5 L224.6 167.6 L203.6 169.1 L190.9 170.4 L197.3 171.8 L203.6 173.9 L201.5 176.1 L193.1 178.2 L186.7 180.3 L186.7 183.3 L203.6 185.4 L224.6 187.5 L237.3 190.2 L224.6 191.7 L203.6 192.7 L188.8 194.4 L187.8 198.0 L185.7 202.2 L180.4 205.4 L184.6 208.5 L185.7 211.3 L203.6 211.7 L228.8 213.4 L224.6 215.9 L233.1 218.0 L241.5 221.2 L249.9 223.3 L241.5 226.0 L233.1 228.5 L228.8 231.7 L226.7 234.8 L230.9 236.9 L239.4 239.1 L237.3 242.2 L239.4 245.4 L235.2 248.5 L207.8 250.8 L224.6 252.3 L241.5 253.5 L224.6 255.0 L193.1 256.1 L177.3 257.1 L176.2 259.8 L184.6 262.4 L199.4 264.9 L203.6 267.6 L214.1 269.7 L224.6 272.5 L239.4 274.6 L243.6 277.1 L224.6 279.2 L207.8 280.3 L230.9 282.4 L244.6 284.5 L253.1 286.6 L250.9 290.8 L252.0 293.9 L253.1 296.1 L235.2 297.5 L193.1 298.2 L177.3 299.2 L177.3 302.4 L184.6 304.5 L186.7 307.6 L182.5 309.7" fill="none" stroke="#000" stroke-width="1.75" stroke-dasharray="1.5 1.6" stroke-linejoin="round"/></g>
<path d="M176.3 16.5 H282.9" stroke="#a8a8a8" stroke-width="0.9" fill="none"/>
<path d="M176.3 310.2 H282.9" stroke="#8a8a8a" stroke-width="0.8" fill="none"/>
<path d="M176.3 16.9 V48.0" stroke="#c4c4c4" stroke-width="0.9" fill="none"/>
<rect x="175.0" y="48" width="2.1" height="262.6" fill="#c6c6c6"/>
<path d="M282.9 16.1 V310.6" stroke="#555" stroke-width="0.7" fill="none"/>
<path d="M202.9 310.2 v-2 M202.9 16.5 v2 M229.6 310.2 v-2 M229.6 16.5 v2 M256.2 310.2 v-2 M256.2 16.5 v2 M176.3 62.3 h2.6 M282.9 62.3 h-2.6 M176.3 108.3 h2.6 M282.9 108.3 h-2.6 M176.3 154.2 h2.6 M282.9 154.2 h-2.6 M176.3 200.2 h2.6 M282.9 200.2 h-2.6 M176.3 246.2 h2.6 M282.9 246.2 h-2.6 M176.3 292.1 h2.6 M282.9 292.1 h-2.6" stroke="#555" stroke-width="0.7" fill="none"/>
<clipPath id="c2"><rect x="307.7" y="16.4" width="105.2" height="294.8"/></clipPath>
<g clip-path="url(#c2)"><line x1="334.0" y1="16.4" x2="334.0" y2="311.2" stroke="#d6d6d6" stroke-width="0.7" stroke-dasharray="0.7 2.1"/><line x1="360.3" y1="16.4" x2="360.3" y2="311.2" stroke="#d6d6d6" stroke-width="0.7" stroke-dasharray="0.7 2.1"/><line x1="386.6" y1="16.4" x2="386.6" y2="311.2" stroke="#d6d6d6" stroke-width="0.7" stroke-dasharray="0.7 2.1"/><line x1="307.7" y1="61.7" x2="412.9" y2="61.7" stroke="#d6d6d6" stroke-width="0.7" stroke-dasharray="0.7 2.1"/><line x1="307.7" y1="107.0" x2="412.9" y2="107.0" stroke="#d6d6d6" stroke-width="0.7" stroke-dasharray="0.7 2.1"/><line x1="307.7" y1="152.3" x2="412.9" y2="152.3" stroke="#d6d6d6" stroke-width="0.7" stroke-dasharray="0.7 2.1"/><line x1="307.7" y1="197.6" x2="412.9" y2="197.6" stroke="#d6d6d6" stroke-width="0.7" stroke-dasharray="0.7 2.1"/><line x1="307.7" y1="242.9" x2="412.9" y2="242.9" stroke="#d6d6d6" stroke-width="0.7" stroke-dasharray="0.7 2.1"/><line x1="307.7" y1="288.2" x2="412.9" y2="288.2" stroke="#d6d6d6" stroke-width="0.7" stroke-dasharray="0.7 2.1"/><polygon points="374.1,16.4 374.1,16.9 372.5,16.9 372.5,17.4 371.9,17.4 371.9,17.9 371.7,17.9 371.7,18.4 368.1,18.4 368.1,18.9 369.7,18.9 369.7,19.4 343.1,19.4 343.1,19.9 333.9,19.9 333.9,20.4 359.6,20.4 359.6,20.9 357.1,20.9 357.1,21.4 359.2,21.4 359.2,21.9 358.3,21.9 358.3,22.4 347.9,22.4 347.9,22.9 355.5,22.9 355.5,23.4 355.3,23.4 355.3,23.9 344.0,23.9 344.0,24.4 351.5,24.4 351.5,24.9 343.7,24.9 343.7,25.4 331.9,25.4 331.9,25.9 361.0,25.9 361.0,26.4 361.6,26.4 361.6,26.9 333.1,26.9 333.1,27.4 347.1,27.4 347.1,27.9 366.5,27.9 366.5,28.4 353.4,28.4 353.4,28.9 357.5,28.9 357.5,29.4 354.5,29.4 354.5,29.9 360.4,29.9 360.4,30.4 365.7,30.4 365.7,30.9 363.4,30.9 363.4,31.4 362.4,31.4 362.4,31.9 362.4,31.9 362.4,32.4 334.6,32.4 334.6,32.9 348.0,32.9 348.0,33.4 362.3,33.4 362.3,33.9 362.0,33.9 362.0,34.4 358.1,34.4 358.1,34.9 360.1,34.9 360.1,35.4 360.3,35.4 360.3,35.9 357.4,35.9 357.4,36.4 355.5,36.4 355.5,36.9 330.3,36.9 330.3,37.4 356.7,37.4 356.7,37.9 361.5,37.9 361.5,38.4 345.5,38.4 345.5,38.9 362.1,38.9 362.1,39.4 358.5,39.4 358.5,39.9 359.0,39.9 359.0,40.4 356.2,40.4 356.2,40.9 358.6,40.9 358.6,41.4 353.0,41.4 353.0,41.9 362.0,41.9 362.0,42.4 361.6,42.4 361.6,42.9 357.7,42.9 357.7,43.4 360.3,43.4 360.3,43.9 366.9,43.9 366.9,44.4 361.6,44.4 361.6,44.9 370.4,44.9 370.4,45.4 369.2,45.4 369.2,45.9 363.9,45.9 363.9,46.4 362.5,46.4 362.5,46.9 352.0,46.9 352.0,47.4 344.4,47.4 344.4,47.9 354.5,47.9 354.5,48.4 344.3,48.4 344.3,48.9 355.7,48.9 355.7,49.4 355.5,49.4 355.5,49.9 341.8,49.9 341.8,50.4 349.5,50.4 349.5,50.9 343.2,50.9 343.2,51.4 332.4,51.4 332.4,51.9 336.1,51.9 336.1,52.4 331.7,52.4 331.7,52.9 327.8,52.9 327.8,53.4 327.0,53.4 327.0,53.9 311.2,53.9 311.2,54.4 323.9,54.4 323.9,54.9 315.3,54.9 315.3,55.4 318.6,55.4 318.6,55.9 313.3,55.9 313.3,56.4 307.7,56.4 307.7,56.9 313.5,56.9 313.5,57.4 311.0,57.4 311.0,57.9 313.6,57.9 313.6,58.4 313.9,58.4 313.9,58.9 313.8,58.9 313.8,59.4 311.4,59.4 311.4,59.9 316.0,59.9 316.0,60.4 315.2,60.4 315.2,60.9 316.3,60.9 316.3,61.4 307.7,61.4 307.7,61.9 319.7,61.9 319.7,62.4 322.8,62.4 322.8,62.9 324.1,62.9 324.1,63.4 320.7,63.4 320.7,63.9 318.8,63.9 318.8,64.4 317.0,64.4 317.0,64.9 325.1,64.9 325.1,65.4 323.9,65.4 323.9,65.9 326.7,65.9 326.7,66.4 327.9,66.4 327.9,66.9 317.9,66.9 317.9,67.4 320.7,67.4 320.7,67.9 332.0,67.9 332.0,68.4 334.2,68.4 334.2,68.9 334.1,68.9 334.1,69.4 330.6,69.4 330.6,69.9 338.7,69.9 338.7,70.4 342.4,70.4 342.4,70.9 344.3,70.9 344.3,71.4 346.1,71.4 346.1,71.9 347.5,71.9 347.5,72.4 341.5,72.4 341.5,72.9 336.5,72.9 336.5,73.4 333.6,73.4 333.6,73.9 334.4,73.9 334.4,74.4 329.7,74.4 329.7,74.9 324.5,74.9 324.5,75.4 323.4,75.4 323.4,75.9 316.4,75.9 316.4,76.4 317.8,76.4 317.8,76.9 316.8,76.9 316.8,77.4 310.4,77.4 310.4,77.9 307.7,77.9 307.7,78.4 307.7,78.4 307.7,78.9 307.7,78.9 307.7,79.4 307.7,79.4 307.7,79.9 307.7,79.9 307.7,80.4 307.7,80.4 307.7,80.9 307.7,80.9 307.7,81.4 307.7,81.4 307.7,81.9 307.7,81.9 307.7,82.4 307.7,82.4 307.7,82.9 307.7,82.9 307.7,83.4 307.7,83.4 307.7,83.9 307.7,83.9 307.7,84.4 307.7,84.4 307.7,84.9 307.7,84.9 307.7,85.4 307.7,85.4 307.7,85.9 307.7,85.9 307.7,86.4 307.7,86.4 307.7,86.9 307.7,86.9 307.7,87.4 307.7,87.4 307.7,87.9 307.7,87.9 307.7,88.4 307.7,88.4 307.7,88.9 307.7,88.9 307.7,89.4 307.7,89.4 307.7,89.9 307.7,89.9 307.7,90.4 307.7,90.4 307.7,90.9 307.7,90.9 307.7,91.4 307.7,91.4 307.7,91.9 307.7,91.9 307.7,92.4 307.7,92.4 307.7,92.9 307.7,92.9 307.7,93.4 307.7,93.4 307.7,93.9 307.7,93.9 307.7,94.4 307.7,94.4 307.7,94.9 307.7,94.9 307.7,95.4 307.7,95.4 307.7,95.9 307.7,95.9 307.7,96.4 307.7,96.4 307.7,96.9 307.7,96.9 307.7,97.4 307.7,97.4 307.7,97.9 307.7,97.9 307.7,98.4 307.7,98.4 307.7,98.9 307.7,98.9 307.7,99.4 307.7,99.4 307.7,99.9 307.7,99.9 307.7,100.4 307.7,100.4 307.7,100.9 307.7,100.9 307.7,101.4 307.7,101.4 307.7,101.9 307.7,101.9 307.7,102.4 307.7,102.4 307.7,102.9 307.7,102.9 307.7,103.4 307.7,103.4 307.7,103.9 307.7,103.9 307.7,104.4 307.7,104.4 307.7,104.9 307.7,104.9 307.7,105.4 307.7,105.4 307.7,105.9 307.7,105.9 307.7,106.4 307.7,106.4 307.7,106.9 307.7,106.9 307.7,107.4 307.7,107.4 307.7,107.9 307.7,107.9 307.7,108.4 307.7,108.4 307.7,108.9 307.7,108.9 307.7,109.4 307.7,109.4 307.7,109.9 307.7,109.9 307.7,110.4 307.7,110.4 307.7,110.9 307.7,110.9 307.7,111.4 307.7,111.4 307.7,111.9 307.7,111.9 307.7,112.4 307.7,112.4 307.7,112.9 307.7,112.9 307.7,113.4 307.7,113.4 307.7,113.9 307.7,113.9 307.7,114.4 307.7,114.4 307.7,114.9 307.7,114.9 307.7,115.4 307.7,115.4 307.7,115.9 307.7,115.9 307.7,116.4 307.7,116.4 307.7,116.9 307.7,116.9 307.7,117.4 307.7,117.4 307.7,117.9 307.7,117.9 307.7,118.4 307.7,118.4 307.7,118.9 307.7,118.9 307.7,119.4 307.7,119.4 307.7,119.9 307.7,119.9 307.7,120.4 307.7,120.4 307.7,120.9 307.7,120.9 307.7,121.4 307.7,121.4 307.7,121.9 307.7,121.9 307.7,122.4 307.7,122.4 307.7,122.9 307.7,122.9 307.7,123.4 307.7,123.4 307.7,123.9 307.7,123.9 307.7,124.4 307.7,124.4 307.7,124.9 307.7,124.9 307.7,125.4 307.7,125.4 307.7,125.9 307.7,125.9 307.7,126.4 307.7,126.4 307.7,126.9 307.7,126.9 307.7,127.4 307.7,127.4 307.7,127.9 307.7,127.9 307.7,128.4 307.7,128.4 307.7,128.9 307.7,128.9 307.7,129.4 307.7,129.4 307.7,129.9 307.7,129.9 307.7,130.4 307.7,130.4 307.7,130.9 307.7,130.9 307.7,131.4 307.7,131.4 307.7,131.9 307.7,131.9 307.7,132.4 307.7,132.4 307.7,132.9 307.7,132.9 307.7,133.4 307.7,133.4 307.7,133.9 307.7,133.9 307.7,134.4 307.7,134.4 307.7,134.9 307.7,134.9 307.7,135.4 307.7,135.4 307.7,135.9 307.7,135.9 307.7,136.4 307.7,136.4 307.7,136.9 307.7,136.9 307.7,137.4 307.7,137.4 307.7,137.9 307.7,137.9 307.7,138.4 307.7,138.4 307.7,138.9 307.7,138.9 307.7,139.4 307.7,139.4 307.7,139.9 307.7,139.9 307.7,140.4 307.7,140.4 307.7,140.9 307.7,140.9 307.7,141.4 307.7,141.4 307.7,141.9 307.7,141.9 307.7,142.4 307.7,142.4 307.7,142.9 307.7,142.9 307.7,143.4 307.7,143.4 307.7,143.9 307.7,143.9 307.7,144.4 307.7,144.4 307.7,144.9 307.7,144.9 307.7,145.4 307.7,145.4 307.7,145.9 307.7,145.9 307.7,146.4 307.7,146.4 307.7,146.9 307.7,146.9 307.7,147.4 307.7,147.4 307.7,147.9 307.7,147.9 307.7,148.4 307.7,148.4 307.7,148.9 307.7,148.9 307.7,149.4 307.7,149.4 307.7,149.9 307.7,149.9 307.7,150.4 307.7,150.4 307.7,150.9 307.7,150.9 307.7,151.4 307.7,151.4 307.7,151.9 307.7,151.9 307.7,152.4 307.7,152.4 307.7,152.9 307.7,152.9 307.7,153.4 307.7,153.4 307.7,153.9 307.7,153.9 307.7,154.4 307.7,154.4 307.7,154.9 307.7,154.9 307.7,155.4 307.7,155.4 307.7,155.9 307.7,155.9 307.7,156.4 307.7,156.4 307.7,156.9 307.7,156.9 307.7,157.4 307.7,157.4 307.7,157.9 307.7,157.9 307.7,158.4 307.7,158.4 307.7,158.9 307.7,158.9 307.7,159.4 307.7,159.4 307.7,159.9 307.7,159.9 307.7,160.4 307.7,160.4 307.7,160.9 307.7,160.9 307.7,161.4 307.7,161.4 307.7,161.9 307.7,161.9 307.7,162.4 307.7,162.4 307.7,162.9 307.7,162.9 307.7,163.4 307.7,163.4 307.7,163.9 307.7,163.9 307.7,164.4 307.7,164.4 307.7,164.9 307.7,164.9 307.7,165.4 307.7,165.4 307.7,165.9 311.2,165.9 311.2,166.4 312.0,166.4 312.0,166.9 318.1,166.9 318.1,167.4 322.9,167.4 322.9,167.9 322.7,167.9 322.7,168.4 316.6,168.4 316.6,168.9 328.8,168.9 328.8,169.4 337.6,169.4 337.6,169.9 342.4,169.9 342.4,170.4 332.5,170.4 332.5,170.9 347.0,170.9 347.0,171.4 349.6,171.4 349.6,171.9 349.2,171.9 349.2,172.4 349.5,172.4 349.5,172.9 347.6,172.9 347.6,173.4 343.3,173.4 343.3,173.9 349.6,173.9 349.6,174.4 352.5,174.4 352.5,174.9 354.3,174.9 354.3,175.4 351.5,175.4 351.5,175.9 340.9,175.9 340.9,176.4 341.0,176.4 341.0,176.9 355.5,176.9 355.5,177.4 352.5,177.4 352.5,177.9 352.7,177.9 352.7,178.4 355.5,178.4 355.5,178.9 352.7,178.9 352.7,179.4 346.0,179.4 346.0,179.9 329.7,179.9 329.7,180.4 321.1,180.4 321.1,180.9 307.7,180.9 307.7,181.4 307.7,181.4 307.7,181.9 307.7,181.9 307.7,182.4 307.7,182.4 307.7,182.9 307.7,182.9 307.7,183.4 307.7,183.4 307.7,183.9 307.7,183.9 307.7,184.4 307.7,184.4 307.7,184.9 307.7,184.9 307.7,185.4 311.5,185.4 311.5,185.9 308.4,185.9 308.4,186.4 307.7,186.4 307.7,186.9 312.6,186.9 312.6,187.4 315.0,187.4 315.0,187.9 315.3,187.9 315.3,188.4 322.0,188.4 322.0,188.9 326.8,188.9 326.8,189.4 328.1,189.4 328.1,189.9 325.5,189.9 325.5,190.4 337.2,190.4 337.2,190.9 339.6,190.9 339.6,191.4 334.2,191.4 334.2,191.9 335.3,191.9 335.3,192.4 340.7,192.4 340.7,192.9 341.5,192.9 341.5,193.4 338.5,193.4 338.5,193.9 343.3,193.9 343.3,194.4 341.5,194.4 341.5,194.9 342.0,194.9 342.0,195.4 344.8,195.4 344.8,195.9 341.8,195.9 341.8,196.4 336.0,196.4 336.0,196.9 337.7,196.9 337.7,197.4 342.4,197.4 342.4,197.9 347.6,197.9 347.6,198.4 338.3,198.4 338.3,198.9 344.9,198.9 344.9,199.4 347.7,199.4 347.7,199.9 338.8,199.9 338.8,200.4 347.1,200.4 347.1,200.9 338.2,200.9 338.2,201.4 342.7,201.4 342.7,201.9 330.9,201.9 330.9,202.4 341.0,202.4 341.0,202.9 337.7,202.9 337.7,203.4 321.0,203.4 321.0,203.9 333.4,203.9 333.4,204.4 329.5,204.4 329.5,204.9 315.3,204.9 315.3,205.4 314.3,205.4 314.3,205.9 320.1,205.9 320.1,206.4 316.0,206.4 316.0,206.9 316.0,206.9 316.0,207.4 315.4,207.4 315.4,207.9 307.7,207.9 307.7,208.4 307.7,208.4 307.7,208.9 311.9,208.9 311.9,209.4 307.7,209.4 307.7,209.9 307.7,209.9 307.7,210.4 307.7,210.4 307.7,210.9 307.7,210.9 307.7,211.4 307.7,211.4 307.7,211.9 307.7,211.9 307.7,212.4 307.7,212.4 307.7,212.9 307.7,212.9 307.7,213.4 307.7,213.4 307.7,213.9 307.7,213.9 307.7,214.4 307.7,214.4 307.7,214.9 307.7,214.9 307.7,215.4 307.7,215.4 307.7,215.9 307.7,215.9 307.7,216.4 307.7,216.4 307.7,216.9 307.7,216.9 307.7,217.4 307.7,217.4 307.7,217.9 307.7,217.9 307.7,218.4 307.7,218.4 307.7,218.9 307.7,218.9 307.7,219.4 307.7,219.4 307.7,219.9 307.7,219.9 307.7,220.4 307.7,220.4 307.7,220.9 307.7,220.9 307.7,221.4 307.7,221.4 307.7,221.9 307.7,221.9 307.7,222.4 307.7,222.4 307.7,222.9 307.7,222.9 307.7,223.4 307.7,223.4 307.7,223.9 307.7,223.9 307.7,224.4 307.7,224.4 307.7,224.9 307.7,224.9 307.7,225.4 307.7,225.4 307.7,225.9 307.7,225.9 307.7,226.4 307.7,226.4 307.7,226.9 307.7,226.9 307.7,227.4 307.7,227.4 307.7,227.9 307.7,227.9 307.7,228.4 307.7,228.4 307.7,228.9 307.7,228.9 307.7,229.4 307.7,229.4 307.7,229.9 307.7,229.9 307.7,230.4 307.7,230.4 307.7,230.9 307.7,230.9 307.7,231.4 307.7,231.4 307.7,231.9 307.7,231.9 307.7,232.4 307.7,232.4 307.7,232.9 307.7,232.9 307.7,233.4 307.7,233.4 307.7,233.9 307.7,233.9 307.7,234.4 307.7,234.4 307.7,234.9 307.7,234.9 307.7,235.4 307.7,235.4 307.7,235.9 307.7,235.9 307.7,236.4 307.7,236.4 307.7,236.9 307.7,236.9 307.7,237.4 307.7,237.4 307.7,237.9 307.7,237.9 307.7,238.4 307.7,238.4 307.7,238.9 307.7,238.9 307.7,239.4 307.7,239.4 307.7,239.9 307.7,239.9 307.7,240.4 307.7,240.4 307.7,240.9 307.7,240.9 307.7,241.4 307.7,241.4 307.7,241.9 307.7,241.9 307.7,242.4 307.7,242.4 307.7,242.9 307.7,242.9 307.7,243.4 307.7,243.4 307.7,243.9 307.7,243.9 307.7,244.4 307.7,244.4 307.7,244.9 307.7,244.9 307.7,245.4 307.7,245.4 307.7,245.9 307.7,245.9 307.7,246.4 307.7,246.4 307.7,246.9 307.7,246.9 307.7,247.4 307.7,247.4 307.7,247.9 307.7,247.9 307.7,248.4 308.4,248.4 308.4,248.9 310.5,248.9 310.5,249.4 307.7,249.4 307.7,249.9 314.8,249.9 314.8,250.4 314.3,250.4 314.3,250.9 316.3,250.9 316.3,251.4 311.6,251.4 311.6,251.9 314.8,251.9 314.8,252.4 317.7,252.4 317.7,252.9 313.4,252.9 313.4,253.4 313.2,253.4 313.2,253.9 318.1,253.9 318.1,254.4 313.1,254.4 313.1,254.9 313.9,254.9 313.9,255.4 312.8,255.4 312.8,255.9 307.7,255.9 307.7,256.4 307.7,256.4 307.7,256.9 307.7,256.9 307.7,257.4 307.7,257.4 307.7,257.9 307.7,257.9 307.7,258.4 307.7,258.4 307.7,258.9 307.7,258.9 307.7,259.4 307.7,259.4 307.7,259.9 307.7,259.9 307.7,260.4 307.7,260.4 307.7,260.9 307.7,260.9 307.7,261.4 307.7,261.4 307.7,261.9 307.7,261.9 307.7,262.4 307.7,262.4 307.7,262.9 307.7,262.9 307.7,263.4 307.7,263.4 307.7,263.9 307.7,263.9 307.7,264.4 307.7,264.4 307.7,264.9 307.7,264.9 307.7,265.4 307.7,265.4 307.7,265.9 307.7,265.9 307.7,266.4 307.7,266.4 307.7,266.9 307.7,266.9 307.7,267.4 307.7,267.4 307.7,267.9 307.7,267.9 307.7,268.4 307.7,268.4 307.7,268.9 307.7,268.9 307.7,269.4 307.7,269.4 307.7,269.9 307.7,269.9 307.7,270.4 307.7,270.4 307.7,270.9 307.7,270.9 307.7,271.4 307.7,271.4 307.7,271.9 307.7,271.9 307.7,272.4 307.7,272.4 307.7,272.9 307.7,272.9 307.7,273.4 307.7,273.4 307.7,273.9 307.7,273.9 307.7,274.4 307.7,274.4 307.7,274.9 307.7,274.9 307.7,275.4 307.7,275.4 307.7,275.9 307.7,275.9 307.7,276.4 307.7,276.4 307.7,276.9 307.7,276.9 307.7,277.4 307.7,277.4 307.7,277.9 307.7,277.9 307.7,278.4 307.7,278.4 307.7,278.9 307.7,278.9 307.7,279.4 307.7,279.4 307.7,279.9 307.7,279.9 307.7,280.4 307.7,280.4 307.7,280.9 307.7,280.9 307.7,281.4 307.7,281.4 307.7,281.9 307.7,281.9 307.7,282.4 307.7,282.4 307.7,282.9 307.7,282.9 307.7,283.4 307.7,283.4 307.7,283.9 307.7,283.9 307.7,284.4 307.7,284.4 307.7,284.9 307.7,284.9 307.7,285.4 307.7,285.4 307.7,285.9 307.7,285.9 307.7,286.4 307.7,286.4 307.7,286.9 307.7,286.9 307.7,287.4 307.7,287.4 307.7,287.9 307.7,287.9 307.7,288.4 307.7,288.4 307.7,288.9 307.7,288.9 307.7,289.4 307.7,289.4 307.7,289.9 307.7,289.9 307.7,290.4 307.7,290.4 307.7,290.9 307.7,290.9 307.7,291.4 307.7,291.4 307.7,291.9 307.7,291.9 307.7,292.4 307.7,292.4 307.7,292.9 307.7,292.9 307.7,293.4 307.7,293.4 307.7,293.9 311.4,293.9 311.4,294.4 320.8,294.4 320.8,294.9 325.5,294.9 325.5,295.4 332.0,295.4 332.0,295.9 338.6,295.9 338.6,296.4 336.6,296.4 336.6,296.9 331.5,296.9 331.5,297.4 328.2,297.4 328.2,297.9 331.8,297.9 331.8,298.4 329.3,298.4 329.3,298.9 328.1,298.9 328.1,299.4 326.1,299.4 326.1,299.9 318.4,299.9 318.4,300.4 324.0,300.4 324.0,300.9 317.9,300.9 317.9,301.4 310.6,301.4 310.6,301.9 308.6,301.9 308.6,302.4 315.2,302.4 315.2,302.9 317.2,302.9 317.2,303.4 317.0,303.4 317.0,303.9 309.4,303.9 309.4,304.4 309.4,304.4 309.4,304.9 307.7,304.9 307.7,305.4 308.5,305.4 308.5,305.9 313.3,305.9 313.3,306.4 311.1,306.4 311.1,306.9 308.0,306.9 308.0,307.4 307.7,307.4 307.7,307.9 307.7,307.9 307.7,308.4 307.7,308.4 307.7,308.9 307.7,308.9 307.7,309.4 307.7,309.4 307.7,309.9 307.7,309.9 307.7,310.4 307.7,310.4 307.7,310.9 307.7,310.9 307.7,311.2 369.2,311.2 369.2,310.9 368.6,310.9 368.6,310.4 368.0,310.4 368.0,309.9 369.3,309.9 369.3,309.4 375.2,309.4 375.2,308.9 384.2,308.9 384.2,308.4 380.0,308.4 380.0,307.9 385.1,307.9 385.1,307.4 379.8,307.4 379.8,306.9 380.4,306.9 380.4,306.4 389.0,306.4 389.0,305.9 388.7,305.9 388.7,305.4 386.7,305.4 386.7,304.9 387.3,304.9 387.3,304.4 390.0,304.4 390.0,303.9 393.1,303.9 393.1,303.4 408.3,303.4 408.3,302.9 401.5,302.9 401.5,302.4 406.0,302.4 406.0,301.9 398.7,301.9 398.7,301.4 401.6,301.4 401.6,300.9 407.4,300.9 407.4,300.4 406.9,300.4 406.9,299.9 407.8,299.9 407.8,299.4 406.7,299.4 406.7,298.9 407.1,298.9 407.1,298.4 407.3,298.4 407.3,297.9 407.9,297.9 407.9,297.4 406.9,297.4 406.9,296.9 408.0,296.9 408.0,296.4 408.3,296.4 408.3,295.9 399.2,295.9 399.2,295.4 389.3,295.4 389.3,294.9 377.6,294.9 377.6,294.4 374.5,294.4 374.5,293.9 361.8,293.9 361.8,293.4 357.6,293.4 357.6,292.9 353.1,292.9 353.1,292.4 345.2,292.4 345.2,291.9 340.4,291.9 340.4,291.4 340.7,291.4 340.7,290.9 330.4,290.9 330.4,290.4 333.5,290.4 333.5,289.9 333.4,289.9 333.4,289.4 331.2,289.4 331.2,288.9 336.5,288.9 336.5,288.4 339.4,288.4 339.4,287.9 337.0,287.9 337.0,287.4 334.4,287.4 334.4,286.9 337.2,286.9 337.2,286.4 336.9,286.4 336.9,285.9 349.0,285.9 349.0,285.4 336.5,285.4 336.5,284.9 337.0,284.9 337.0,284.4 336.8,284.4 336.8,283.9 341.4,283.9 341.4,283.4 341.9,283.4 341.9,282.9 339.5,282.9 339.5,282.4 340.9,282.4 340.9,281.9 341.2,281.9 341.2,281.4 347.3,281.4 347.3,280.9 347.7,280.9 347.7,280.4 351.4,280.4 351.4,279.9 352.1,279.9 352.1,279.4 363.5,279.4 363.5,278.9 360.0,278.9 360.0,278.4 368.6,278.4 368.6,277.9 364.0,277.9 364.0,277.4 372.4,277.4 372.4,276.9 368.7,276.9 368.7,276.4 370.3,276.4 370.3,275.9 371.4,275.9 371.4,275.4 374.0,275.4 374.0,274.9 371.0,274.9 371.0,274.4 367.0,274.4 367.0,273.9 360.2,273.9 360.2,273.4 357.5,273.4 357.5,272.9 361.4,272.9 361.4,272.4 345.5,272.4 345.5,271.9 345.5,271.9 345.5,271.4 345.3,271.4 345.3,270.9 345.8,270.9 345.8,270.4 348.5,270.4 348.5,269.9 351.9,269.9 351.9,269.4 365.7,269.4 365.7,268.9 355.7,268.9 355.7,268.4 358.7,268.4 358.7,267.9 361.9,267.9 361.9,267.4 369.2,267.4 369.2,266.9 359.0,266.9 359.0,266.4 361.6,266.4 361.6,265.9 368.1,265.9 368.1,265.4 369.5,265.4 369.5,264.9 366.4,264.9 366.4,264.4 368.0,264.4 368.0,263.9 373.3,263.9 373.3,263.4 372.9,263.4 372.9,262.9 373.5,262.9 373.5,262.4 375.5,262.4 375.5,261.9 384.9,261.9 384.9,261.4 377.1,261.4 377.1,260.9 379.1,260.9 379.1,260.4 381.1,260.4 381.1,259.9 390.1,259.9 390.1,259.4 390.1,259.4 390.1,258.9 390.1,258.9 390.1,258.4 386.2,258.4 386.2,257.9 391.9,257.9 391.9,257.4 391.5,257.4 391.5,256.9 392.2,256.9 392.2,256.4 399.3,256.4 399.3,255.9 395.9,255.9 395.9,255.4 408.3,255.4 408.3,254.9 395.0,254.9 395.0,254.4 400.5,254.4 400.5,253.9 400.5,253.9 400.5,253.4 400.0,253.4 400.0,252.9 404.5,252.9 404.5,252.4 389.7,252.4 389.7,251.9 388.1,251.9 388.1,251.4 389.4,251.4 389.4,250.9 389.4,250.9 389.4,250.4 377.0,250.4 377.0,249.9 372.2,249.9 372.2,249.4 376.5,249.4 376.5,248.9 378.1,248.9 378.1,248.4 363.7,248.4 363.7,247.9 355.5,247.9 355.5,247.4 360.7,247.4 360.7,246.9 359.9,246.9 359.9,246.4 366.5,246.4 366.5,245.9 365.6,245.9 365.6,245.4 371.8,245.4 371.8,244.9 356.2,244.9 356.2,244.4 348.9,244.4 348.9,243.9 348.4,243.9 348.4,243.4 343.3,243.4 343.3,242.9 339.9,242.9 339.9,242.4 340.5,242.4 340.5,241.9 346.0,241.9 346.0,241.4 339.4,241.4 339.4,240.9 347.2,240.9 347.2,240.4 338.4,240.4 338.4,239.9 353.2,239.9 353.2,239.4 338.1,239.4 338.1,238.9 342.5,238.9 342.5,238.4 339.4,238.4 339.4,237.9 338.9,237.9 338.9,237.4 338.9,237.4 338.9,236.9 338.4,236.9 338.4,236.4 338.7,236.4 338.7,235.9 334.9,235.9 334.9,235.4 336.5,235.4 336.5,234.9 335.8,234.9 335.8,234.4 334.6,234.4 334.6,233.9 339.5,233.9 339.5,233.4 333.0,233.4 333.0,232.9 330.6,232.9 330.6,232.4 330.0,232.4 330.0,231.9 334.3,231.9 334.3,231.4 325.6,231.4 325.6,230.9 324.4,230.9 324.4,230.4 325.7,230.4 325.7,229.9 327.8,229.9 327.8,229.4 323.1,229.4 323.1,228.9 325.7,228.9 325.7,228.4 322.6,228.4 322.6,227.9 321.7,227.9 321.7,227.4 322.2,227.4 322.2,226.9 322.9,226.9 322.9,226.4 324.2,226.4 324.2,225.9 323.0,225.9 323.0,225.4 322.4,225.4 322.4,224.9 324.3,224.9 324.3,224.4 324.1,224.4 324.1,223.9 325.8,223.9 325.8,223.4 333.8,223.4 333.8,222.9 325.4,222.9 325.4,222.4 329.8,222.4 329.8,221.9 327.2,221.9 327.2,221.4 328.6,221.4 328.6,220.9 332.0,220.9 332.0,220.4 333.4,220.4 333.4,219.9 331.2,219.9 331.2,219.4 332.2,219.4 332.2,218.9 341.7,218.9 341.7,218.4 333.6,218.4 333.6,217.9 339.7,217.9 339.7,217.4 338.1,217.4 338.1,216.9 349.6,216.9 349.6,216.4 340.8,216.4 340.8,215.9 354.7,215.9 354.7,215.4 345.1,215.4 345.1,214.9 347.0,214.9 347.0,214.4 358.2,214.4 358.2,213.9 349.8,213.9 349.8,213.4 354.1,213.4 354.1,212.9 354.6,212.9 354.6,212.4 362.4,212.4 362.4,211.9 374.4,211.9 374.4,211.4 378.7,211.4 378.7,210.9 388.3,210.9 388.3,210.4 378.1,210.4 378.1,209.9 383.1,209.9 383.1,209.4 385.0,209.4 385.0,208.9 393.3,208.9 393.3,208.4 397.6,208.4 397.6,207.9 394.9,207.9 394.9,207.4 397.7,207.4 397.7,206.9 397.5,206.9 397.5,206.4 399.5,206.4 399.5,205.9 399.1,205.9 399.1,205.4 399.4,205.4 399.4,204.9 408.3,204.9 408.3,204.4 400.5,204.4 400.5,203.9 401.5,203.9 401.5,203.4 406.8,203.4 406.8,202.9 407.9,202.9 407.9,202.4 407.6,202.4 407.6,201.9 407.6,201.9 407.6,201.4 408.0,201.4 408.0,200.9 407.6,200.9 407.6,200.4 406.9,200.4 406.9,199.9 406.8,199.9 406.8,199.4 408.1,199.4 408.1,198.9 407.1,198.9 407.1,198.4 406.7,198.4 406.7,197.9 407.0,197.9 407.0,197.4 408.0,197.4 408.0,196.9 407.2,196.9 407.2,196.4 407.7,196.4 407.7,195.9 407.6,195.9 407.6,195.4 407.7,195.4 407.7,194.9 407.1,194.9 407.1,194.4 407.1,194.4 407.1,193.9 407.3,193.9 407.3,193.4 407.9,193.4 407.9,192.9 407.9,192.9 407.9,192.4 407.7,192.4 407.7,191.9 407.1,191.9 407.1,191.4 407.6,191.4 407.6,190.9 407.4,190.9 407.4,190.4 400.2,190.4 400.2,189.9 399.1,189.9 399.1,189.4 398.5,189.4 398.5,188.9 401.2,188.9 401.2,188.4 397.5,188.4 397.5,187.9 397.4,187.9 397.4,187.4 397.0,187.4 397.0,186.9 398.2,186.9 398.2,186.4 392.0,186.4 392.0,185.9 390.9,185.9 390.9,185.4 387.4,185.4 387.4,184.9 390.1,184.9 390.1,184.4 383.6,184.4 383.6,183.9 379.7,183.9 379.7,183.4 381.4,183.4 381.4,182.9 377.8,182.9 377.8,182.4 374.8,182.4 374.8,181.9 374.0,181.9 374.0,181.4 373.7,181.4 373.7,180.9 385.7,180.9 385.7,180.4 380.3,180.4 380.3,179.9 400.6,179.9 400.6,179.4 396.2,179.4 396.2,178.9 395.9,178.9 395.9,178.4 398.3,178.4 398.3,177.9 398.1,177.9 398.1,177.4 393.1,177.4 393.1,176.9 392.6,176.9 392.6,176.4 393.1,176.4 393.1,175.9 393.6,175.9 393.6,175.4 394.8,175.4 394.8,174.9 395.1,174.9 395.1,174.4 394.1,174.4 394.1,173.9 403.4,173.9 403.4,173.4 394.6,173.4 394.6,172.9 395.1,172.9 395.1,172.4 407.0,172.4 407.0,171.9 398.7,171.9 398.7,171.4 396.7,171.4 396.7,170.9 398.1,170.9 398.1,170.4 408.3,170.4 408.3,169.9 396.1,169.9 396.1,169.4 396.2,169.4 396.2,168.9 391.5,168.9 391.5,168.4 396.8,168.4 396.8,167.9 390.0,167.9 390.0,167.4 390.4,167.4 390.4,166.9 390.6,166.9 390.6,166.4 390.8,166.4 390.8,165.9 384.4,165.9 384.4,165.4 383.0,165.4 383.0,164.9 375.5,164.9 375.5,164.4 371.7,164.4 371.7,163.9 365.3,163.9 365.3,163.4 360.6,163.4 360.6,162.9 357.4,162.9 357.4,162.4 357.2,162.4 357.2,161.9 356.4,161.9 356.4,161.4 356.5,161.4 356.5,160.9 354.1,160.9 354.1,160.4 352.6,160.4 352.6,159.9 354.3,159.9 354.3,159.4 352.8,159.4 352.8,158.9 353.3,158.9 353.3,158.4 358.4,158.4 358.4,157.9 354.1,157.9 354.1,157.4 352.8,157.4 352.8,156.9 353.7,156.9 353.7,156.4 357.1,156.4 357.1,155.9 355.0,155.9 355.0,155.4 360.0,155.4 360.0,154.9 355.1,154.9 355.1,154.4 360.4,154.4 360.4,153.9 353.6,153.9 353.6,153.4 368.6,153.4 368.6,152.9 354.4,152.9 354.4,152.4 355.6,152.4 355.6,151.9 352.2,151.9 352.2,151.4 352.7,151.4 352.7,150.9 357.0,150.9 357.0,150.4 352.8,150.4 352.8,149.9 351.1,149.9 351.1,149.4 356.3,149.4 356.3,148.9 352.0,148.9 352.0,148.4 354.6,148.4 354.6,147.9 365.8,147.9 365.8,147.4 352.6,147.4 352.6,146.9 351.8,146.9 351.8,146.4 356.3,146.4 356.3,145.9 349.5,145.9 349.5,145.4 348.7,145.4 348.7,144.9 348.8,144.9 348.8,144.4 357.4,144.4 357.4,143.9 351.6,143.9 351.6,143.4 347.3,143.4 347.3,142.9 346.9,142.9 346.9,142.4 349.8,142.4 349.8,141.9 350.1,141.9 350.1,141.4 348.1,141.4 348.1,140.9 344.5,140.9 344.5,140.4 349.1,140.4 349.1,139.9 345.3,139.9 345.3,139.4 347.6,139.4 347.6,138.9 356.6,138.9 356.6,138.4 340.8,138.4 340.8,137.9 340.3,137.9 340.3,137.4 350.0,137.4 350.0,136.9 344.2,136.9 344.2,136.4 341.2,136.4 341.2,135.9 337.2,135.9 337.2,135.4 338.6,135.4 338.6,134.9 341.9,134.9 341.9,134.4 344.0,134.4 344.0,133.9 348.8,133.9 348.8,133.4 337.7,133.4 337.7,132.9 340.6,132.9 340.6,132.4 335.0,132.4 335.0,131.9 338.3,131.9 338.3,131.4 334.3,131.4 334.3,130.9 333.4,130.9 333.4,130.4 335.1,130.4 335.1,129.9 336.6,129.9 336.6,129.4 336.0,129.4 336.0,128.9 333.5,128.9 333.5,128.4 339.3,128.4 339.3,127.9 334.2,127.9 334.2,127.4 336.6,127.4 336.6,126.9 334.3,126.9 334.3,126.4 337.1,126.4 337.1,125.9 339.9,125.9 339.9,125.4 332.5,125.4 332.5,124.9 333.4,124.9 333.4,124.4 331.0,124.4 331.0,123.9 333.8,123.9 333.8,123.4 328.9,123.4 328.9,122.9 333.8,122.9 333.8,122.4 328.4,122.4 328.4,121.9 341.6,121.9 341.6,121.4 327.8,121.4 327.8,120.9 325.5,120.9 325.5,120.4 330.1,120.4 330.1,119.9 329.8,119.9 329.8,119.4 325.3,119.4 325.3,118.9 335.9,118.9 335.9,118.4 331.8,118.4 331.8,117.9 333.4,117.9 333.4,117.4 342.6,117.4 342.6,116.9 328.5,116.9 328.5,116.4 328.9,116.4 328.9,115.9 331.4,115.9 331.4,115.4 332.2,115.4 332.2,114.9 329.6,114.9 329.6,114.4 343.7,114.4 343.7,113.9 330.5,113.9 330.5,113.4 332.0,113.4 332.0,112.9 332.6,112.9 332.6,112.4 343.2,112.4 343.2,111.9 330.8,111.9 330.8,111.4 343.5,111.4 343.5,110.9 333.0,110.9 333.0,110.4 333.2,110.4 333.2,109.9 332.6,109.9 332.6,109.4 335.0,109.4 335.0,108.9 336.5,108.9 336.5,108.4 342.9,108.4 342.9,107.9 345.8,107.9 345.8,107.4 338.2,107.4 338.2,106.9 335.7,106.9 335.7,106.4 336.6,106.4 336.6,105.9 339.4,105.9 339.4,105.4 337.8,105.4 337.8,104.9 340.2,104.9 340.2,104.4 338.0,104.4 338.0,103.9 338.8,103.9 338.8,103.4 342.2,103.4 342.2,102.9 340.5,102.9 340.5,102.4 338.8,102.4 338.8,101.9 339.9,101.9 339.9,101.4 338.2,101.4 338.2,100.9 342.9,100.9 342.9,100.4 338.6,100.4 338.6,99.9 340.2,99.9 340.2,99.4 337.0,99.4 337.0,98.9 339.8,98.9 339.8,98.4 342.4,98.4 342.4,97.9 345.2,97.9 345.2,97.4 342.7,97.4 342.7,96.9 348.5,96.9 348.5,96.4 351.0,96.4 351.0,95.9 353.3,95.9 353.3,95.4 360.7,95.4 360.7,94.9 363.1,94.9 363.1,94.4 361.4,94.4 361.4,93.9 364.7,93.9 364.7,93.4 371.0,93.4 371.0,92.9 374.6,92.9 374.6,92.4 383.9,92.4 383.9,91.9 373.4,91.9 373.4,91.4 381.2,91.4 381.2,90.9 383.2,90.9 383.2,90.4 376.5,90.4 376.5,89.9 380.1,89.9 380.1,89.4 384.6,89.4 384.6,88.9 380.3,88.9 380.3,88.4 382.5,88.4 382.5,87.9 391.1,87.9 391.1,87.4 389.2,87.4 389.2,86.9 390.3,86.9 390.3,86.4 391.9,86.4 391.9,85.9 400.2,85.9 400.2,85.4 396.8,85.4 396.8,84.9 398.2,84.9 398.2,84.4 398.8,84.4 398.8,83.9 388.3,83.9 388.3,83.4 380.1,83.4 380.1,82.9 378.1,82.9 378.1,82.4 374.8,82.4 374.8,81.9 365.4,81.9 365.4,81.4 369.5,81.4 369.5,80.9 368.0,80.9 368.0,80.4 373.5,80.4 373.5,79.9 389.6,79.9 389.6,79.4 379.1,79.4 379.1,78.9 396.2,78.9 396.2,78.4 384.6,78.4 384.6,77.9 396.1,77.9 396.1,77.4 392.0,77.4 392.0,76.9 399.3,76.9 399.3,76.4 393.1,76.4 393.1,75.9 399.6,75.9 399.6,75.4 400.9,75.4 400.9,74.9 404.4,74.9 404.4,74.4 403.0,74.4 403.0,73.9 408.0,73.9 408.0,73.4 407.9,73.4 407.9,72.9 407.6,72.9 407.6,72.4 408.1,72.4 408.1,71.9 407.2,71.9 407.2,71.4 407.9,71.4 407.9,70.9 407.7,70.9 407.7,70.4 408.2,70.4 408.2,69.9 406.9,69.9 406.9,69.4 407.5,69.4 407.5,68.9 408.0,68.9 408.0,68.4 407.7,68.4 407.7,67.9 408.1,67.9 408.1,67.4 407.0,67.4 407.0,66.9 406.9,66.9 406.9,66.4 407.8,66.4 407.8,65.9 408.2,65.9 408.2,65.4 404.9,65.4 404.9,64.9 408.3,64.9 408.3,64.4 399.5,64.4 399.5,63.9 400.3,63.9 400.3,63.4 406.5,63.4 406.5,62.9 396.5,62.9 396.5,62.4 399.2,62.4 399.2,61.9 394.5,61.9 394.5,61.4 400.4,61.4 400.4,60.9 391.5,60.9 391.5,60.4 392.8,60.4 392.8,59.9 400.0,59.9 400.0,59.4 391.2,59.4 391.2,58.9 388.2,58.9 388.2,58.4 395.0,58.4 395.0,57.9 387.1,57.9 387.1,57.4 391.8,57.4 391.8,56.9 385.8,56.9 385.8,56.4 383.0,56.4 383.0,55.9 401.1,55.9 401.1,55.4 390.3,55.4 390.3,54.9 395.3,54.9 395.3,54.4 392.8,54.4 392.8,53.9 399.5,53.9 399.5,53.4 399.5,53.4 399.5,52.9 400.2,52.9 400.2,52.4 399.6,52.4 399.6,51.9 408.3,51.9 408.3,51.4 408.3,51.4 408.3,50.9 407.3,50.9 407.3,50.4 408.0,50.4 408.0,49.9 406.9,49.9 406.9,49.4 407.7,49.4 407.7,48.9 408.1,48.9 408.1,48.4 407.6,48.4 407.6,47.9 407.0,47.9 407.0,47.4 407.1,47.4 407.1,46.9 406.8,46.9 406.8,46.4 408.3,46.4 408.3,45.9 407.8,45.9 407.8,45.4 408.1,45.4 408.1,44.9 407.7,44.9 407.7,44.4 408.1,44.4 408.1,43.9 406.9,43.9 406.9,43.4 407.7,43.4 407.7,42.9 407.5,42.9 407.5,42.4 407.7,42.4 407.7,41.9 406.9,41.9 406.9,41.4 406.9,41.4 406.9,40.9 408.0,40.9 408.0,40.4 406.7,40.4 406.7,39.9 406.9,39.9 406.9,39.4 407.1,39.4 407.1,38.9 407.6,38.9 407.6,38.4 407.3,38.4 407.3,37.9 407.5,37.9 407.5,37.4 406.9,37.4 406.9,36.9 407.5,36.9 407.5,36.4 406.8,36.4 406.8,35.9 407.3,35.9 407.3,35.4 407.1,35.4 407.1,34.9 408.1,34.9 408.1,34.4 406.7,34.4 406.7,33.9 407.0,33.9 407.0,33.4 406.8,33.4 406.8,32.9 407.3,32.9 407.3,32.4 407.8,32.4 407.8,31.9 407.5,31.9 407.5,31.4 407.3,31.4 407.3,30.9 407.6,30.9 407.6,30.4 408.2,30.4 408.2,29.9 407.5,29.9 407.5,29.4 406.7,29.4 406.7,28.9 406.9,28.9 406.9,28.4 408.1,28.4 408.1,27.9 407.6,27.9 407.6,27.4 408.2,27.4 408.2,26.9 407.9,26.9 407.9,26.4 407.0,26.4 407.0,25.9 408.0,25.9 408.0,25.4 406.8,25.4 406.8,24.9 408.0,24.9 408.0,24.4 407.4,24.4 407.4,23.9 407.4,23.9 407.4,23.4 407.4,23.4 407.4,22.9 407.1,22.9 407.1,22.4 408.3,22.4 408.3,21.9 407.2,21.9 407.2,21.4 406.8,21.4 406.8,20.9 407.9,20.9 407.9,20.4 406.7,20.4 406.7,19.9 408.0,19.9 408.0,19.4 406.8,19.4 406.8,18.9 408.1,18.9 408.1,18.4 408.1,18.4 408.1,17.9 406.7,17.9 406.7,17.4 408.1,17.4 408.1,16.9 407.4,16.9 407.4,16.4" fill="#b5b5b5"/><path d="M390.9 16.4 L381.1 17.2 L382.2 18.8 L387.1 20.2 L387.7 22.3 L388.8 24.5 L391.5 26.7 L390.4 27.8 L394.2 29.2 L392.0 30.0 L393.7 30.7 L388.8 32.7 L392.0 34.3 L387.7 36.5 L389.9 38.1 L391.5 39.2 L387.7 42.0 L382.2 43.6 L377.3 44.4 L382.2 44.7 L387.7 45.6 L388.2 46.9 L388.8 49.0 L389.0 51.2 L386.6 52.1 L376.8 53.2 L382.9 52.4 L370.9 54.4 L359.9 56.0 L357.9 58.4 L362.9 61.0 L374.9 63.0 L383.9 65.6 L382.9 68.0 L388.8 70.0 L390.8 73.0 L382.9 75.0 L362.9 77.0 L342.9 78.9 L329.0 80.3 L326.0 81.9 L329.0 83.9 L342.9 84.9 L356.9 85.5 L362.9 85.9 L356.9 87.5 L357.9 88.9 L342.9 89.9 L323.0 91.9 L309.5 93.6 L308.4 95.3 L313.9 96.9 L323.2 98.8 L323.7 99.6 L313.9 100.5 L308.4 101.6 L307.6 104.0 L307.4 113.8 L308.4 116.0 L311.7 118.1 L313.3 119.8 L312.8 121.2 L315.5 123.6 L313.3 125.2 L312.3 126.9 L313.3 127.9 L309.5 129.6 L307.6 131.2 L307.6 137.0 L307.9 138.7 L307.9 155.0 L307.9 163.2 L310.4 164.8 L327.5 166.4 L352.0 168.9 L366.7 170.5 L370.0 171.3 L360.2 173.0 L359.4 174.6 L368.3 176.2 L360.2 177.9 L355.3 179.5 L355.3 182.0 L352.8 184.1 L356.9 185.2 L368.3 186.9 L376.5 188.5 L381.4 190.1 L379.0 192.2 L382.2 194.2 L383.0 195.0 L384.7 198.3 L383.0 201.5 L374.9 204.8 L360.2 206.8 L343.8 208.4 L334.0 210.0 L335.7 211.3 L347.1 212.2 L347.9 213.3 L335.7 214.6 L329.1 217.1 L322.6 219.5 L325.1 221.5 L323.4 224.1 L318.5 226.9 L319.3 230.1 L318.5 232.9 L312.8 235.0 L314.4 236.7 L321.0 237.8 L321.8 239.1 L316.9 240.7 L316.9 242.7 L324.2 244.0 L327.8 245.0 L338.5 246.7 L327.8 248.6 L318.7 250.3 L321.2 251.9 L332.7 254.1 L342.6 256.6 L336.9 258.2 L341.8 260.7 L336.0 262.8 L319.5 264.5 L312.1 266.1 L315.4 268.1 L320.3 270.6 L312.9 273.9 L319.5 277.2 L322.8 279.7 L321.2 283.8 L318.7 286.3 L312.1 288.3 L312.1 291.2 L319.5 292.9 L336.0 294.0 L352.5 295.0 L361.6 296.5 L352.5 298.7 L365.7 300.3 L379.0 302.0 L380.6 303.6 L374.0 305.8 L352.5 307.4 L344.3 309.4 L341.8 310.7" fill="none" stroke="#000" stroke-width="1.6" stroke-linejoin="round"/></g>
<rect x="307.7" y="16.4" width="105.2" height="294.8" fill="none" stroke="#555" stroke-width="0.7"/>
<path d="M334.0 311.2 v-2 M334.0 16.4 v2 M360.3 311.2 v-2 M360.3 16.4 v2 M386.6 311.2 v-2 M386.6 16.4 v2 M307.7 61.7 h2.6 M412.9 61.7 h-2.6 M307.7 107.0 h2.6 M412.9 107.0 h-2.6 M307.7 152.3 h2.6 M412.9 152.3 h-2.6 M307.7 197.6 h2.6 M412.9 197.6 h-2.6 M307.7 242.9 h2.6 M412.9 242.9 h-2.6 M307.7 288.2 h2.6 M412.9 288.2 h-2.6" stroke="#555" stroke-width="0.7" fill="none"/>
<clipPath id="c3"><rect x="439.5" y="16.4" width="105.8" height="294.8"/></clipPath>
<g clip-path="url(#c3)"><line x1="465.9" y1="16.4" x2="465.9" y2="311.2" stroke="#d6d6d6" stroke-width="0.7" stroke-dasharray="0.7 2.1"/><line x1="492.4" y1="16.4" x2="492.4" y2="311.2" stroke="#d6d6d6" stroke-width="0.7" stroke-dasharray="0.7 2.1"/><line x1="518.8" y1="16.4" x2="518.8" y2="311.2" stroke="#d6d6d6" stroke-width="0.7" stroke-dasharray="0.7 2.1"/><line x1="439.5" y1="62.3" x2="545.3" y2="62.3" stroke="#d6d6d6" stroke-width="0.7" stroke-dasharray="0.7 2.1"/><line x1="439.5" y1="108.3" x2="545.3" y2="108.3" stroke="#d6d6d6" stroke-width="0.7" stroke-dasharray="0.7 2.1"/><line x1="439.5" y1="154.2" x2="545.3" y2="154.2" stroke="#d6d6d6" stroke-width="0.7" stroke-dasharray="0.7 2.1"/><line x1="439.5" y1="200.2" x2="545.3" y2="200.2" stroke="#d6d6d6" stroke-width="0.7" stroke-dasharray="0.7 2.1"/><line x1="439.5" y1="246.2" x2="545.3" y2="246.2" stroke="#d6d6d6" stroke-width="0.7" stroke-dasharray="0.7 2.1"/><line x1="439.5" y1="292.1" x2="545.3" y2="292.1" stroke="#d6d6d6" stroke-width="0.7" stroke-dasharray="0.7 2.1"/><path d="M528.7 16.4 L528.7 49.9 L527.6 54.1 L523.4 57.3 L521.3 60.4 L525.5 63.6 L524.5 66.7 L527.6 69.9 L528.7 75.2 L525.5 79.4 L523.4 83.6 L498.2 86.1 L504.5 88.8 L504.5 92.0 L487.6 95.2 L466.6 97.3 L465.5 101.3 L466.6 107.6 L461.3 113.9 L464.5 118.2 L462.4 122.4 L465.5 128.7 L462.4 135.0 L466.6 141.3 L465.5 147.6 L470.8 152.9 L477.1 158.2 L473.9 163.4 L477.1 167.6 L508.7 169.7 L525.5 170.4 L523.4 173.9 L504.5 178.2 L523.4 179.2 L498.2 183.3 L487.6 186.4 L498.2 189.6 L527.6 193.8 L527.6 209.6 L517.1 211.7 L487.6 213.4 L466.6 214.8 L456.1 222.2 L462.4 230.6 L466.6 239.1 L468.7 247.5 L475.0 251.8 L498.2 253.9 L525.5 256.1 L519.2 259.2 L493.9 262.4 L483.4 266.6 L472.9 269.7 L466.6 272.9 L465.5 277.1 L480.3 279.6 L464.5 282.4 L462.4 287.6 L463.4 293.9 L477.1 297.1 L519.2 298.2 L527.6 299.2 L526.6 304.5 L519.2 308.7" fill="none" stroke="#bdbdbd" stroke-width="0.7" stroke-dasharray="1.5 0.8"/><path d="M491.8 16.4 L491.8 24.6 L489.7 30.9 L495.0 43.6 L493.9 49.9 L485.5 52.0 L466.6 54.1 L451.8 57.3 L456.1 59.4 L470.8 61.5 L466.6 64.6 L472.9 67.8 L487.6 70.9 L491.8 74.1 L477.1 76.2 L443.4 79.4 L439.6 81.5 L439.6 168.7 L466.6 171.8 L470.8 176.1 L453.9 179.2 L447.6 181.2 L439.6 184.3 L439.6 190.6 L466.6 193.8 L481.3 195.9 L487.6 201.2 L483.4 205.4 L477.1 209.6 L456.1 211.7 L439.6 213.8 L439.6 251.8 L456.1 254.4 L466.6 256.1 L451.8 258.6 L439.6 261.3 L439.6 297.1 L477.1 300.3 L479.2 302.4 L466.6 305.5 L453.9 308.7" fill="none" stroke="#bdbdbd" stroke-width="0.7" stroke-dasharray="1.5 0.8"/><path d="M522.7 16.8 L512.9 17.6 L514.0 19.2 L518.9 20.6 L519.5 22.8 L520.6 25.0 L523.3 27.3 L522.2 28.4 L526.0 29.8 L523.8 30.6 L525.5 31.3 L520.6 33.3 L523.8 35.0 L519.5 37.2 L521.7 38.9 L523.3 40.0 L519.5 42.7 L514.0 44.4 L509.1 45.2 L514.0 45.5 L519.5 46.4 L520.0 47.7 L520.6 49.9 L520.8 52.1 L518.4 53.0 L508.6 54.1 L514.7 53.3 L502.7 55.3 L491.7 57.0 L489.7 59.4 L494.7 62.0 L506.7 64.0 L515.7 66.7 L514.7 69.1 L520.6 71.1 L522.6 74.2 L514.7 76.2 L494.7 78.2 L474.7 80.2 L460.8 81.7 L457.8 83.3 L460.8 85.3 L474.7 86.3 L488.7 86.9 L494.7 87.3 L488.7 89.0 L489.7 90.4 L474.7 91.4 L454.8 93.4 L441.3 95.1 L440.2 96.8 L445.7 98.5 L455.0 100.3 L455.5 101.2 L445.7 102.1 L440.2 103.2 L439.4 105.6 L439.2 115.6 L440.2 117.8 L443.5 120.0 L445.1 121.7 L444.6 123.1 L447.3 125.5 L445.1 127.2 L444.1 128.8 L445.1 129.9 L441.3 131.6 L439.4 133.3 L439.4 139.1 L439.7 140.8 L439.7 157.4 L439.7 165.7 L442.2 167.3 L459.3 169.0 L483.8 171.5 L498.5 173.1 L501.8 174.0 L492.0 175.6 L491.2 177.3 L500.1 178.9 L492.0 180.6 L487.1 182.2 L487.1 184.7 L484.6 186.9 L488.7 188.0 L500.1 189.7 L508.3 191.4 L513.2 193.0 L510.8 195.2 L514.0 197.2 L514.8 198.0 L516.5 201.3 L514.8 204.6 L506.7 207.9 L492.0 209.9 L475.6 211.5 L465.8 213.2 L467.5 214.5 L478.9 215.4 L479.7 216.5 L467.5 217.8 L460.9 220.3 L454.4 222.8 L456.9 224.8 L455.2 227.5 L450.3 230.3 L451.1 233.6 L450.3 236.4 L444.6 238.6 L446.2 240.2 L452.8 241.4 L453.6 242.7 L448.7 244.4 L448.7 246.3 L456.0 247.7 L459.6 248.7 L470.3 250.4 L459.6 252.4 L450.5 254.0 L453.0 255.7 L464.5 257.9 L474.4 260.4 L468.7 262.1 L473.6 264.6 L467.8 266.8 L451.3 268.4 L443.9 270.1 L447.2 272.1 L452.1 274.6 L444.7 278.0 L451.3 281.3 L454.6 283.9 L453.0 288.0 L450.5 290.6 L443.9 292.6 L443.9 295.6 L451.3 297.3 L467.8 298.4 L484.3 299.4 L493.4 300.9 L484.3 303.1 L497.5 304.8 L510.8 306.5 L512.4 308.1 L505.8 310.3 L484.3 312.0 L476.1 314.0 L473.6 315.3" fill="none" stroke="#000" stroke-width="1.6" stroke-linejoin="round"/><path d="M523.4 16.4 L523.4 20.4 L524.5 24.6 L524.5 30.9 L525.5 37.3 L524.5 43.6 L523.4 48.8 L519.2 53.1 L498.2 55.2 L483.4 58.3 L485.5 60.4 L498.2 63.6 L506.6 67.8 L517.1 69.9 L524.5 73.1 L523.4 75.2 L498.2 77.3 L466.6 78.3 L449.7 80.4 L446.6 83.6 L462.4 85.3 L487.6 86.1 L498.2 87.4 L487.6 89.5 L472.9 91.6 L451.8 93.7 L441.3 95.8 L455.0 99.2 L445.5 101.3 L441.3 104.5 L443.4 109.7 L441.3 113.9 L445.5 118.2 L443.4 122.4 L444.5 126.6 L442.4 131.8 L443.4 137.1 L444.5 143.4 L445.5 148.7 L449.7 152.9 L456.1 157.1 L451.8 160.3 L450.8 164.5 L456.1 167.6 L487.6 169.1 L502.4 170.8 L503.4 173.9 L493.9 176.1 L485.5 178.2 L477.1 179.6 L487.6 181.8 L466.6 184.3 L447.6 187.5 L453.9 190.6 L487.6 192.3 L508.7 193.2 L519.2 193.8 L516.1 196.9 L518.2 201.2 L517.1 205.4 L515.0 208.5 L498.2 210.6 L466.6 211.7 L449.7 213.8 L447.6 216.9 L441.3 220.1 L440.3 225.4 L441.3 230.6 L444.5 235.9 L445.5 241.2 L444.5 246.4 L449.7 250.8 L466.6 252.9 L498.2 254.4 L512.9 256.1 L508.7 258.2 L487.6 260.3 L472.9 263.4 L462.4 266.6 L451.8 269.7 L447.6 272.9 L449.7 276.1 L457.1 280.3 L447.6 283.4 L442.4 286.6 L441.3 290.8 L443.4 295.0 L466.6 297.1 L498.2 298.2 L518.2 299.8 L512.9 302.4 L508.7 305.5 L498.2 307.6 L489.7 309.1" fill="none" stroke="#000" stroke-width="1.75" stroke-dasharray="1.5 1.6" stroke-linejoin="round"/></g>
<path d="M439.5 17.1 H545.3" stroke="#a8a8a8" stroke-width="0.9" fill="none"/>
<path d="M439.5 310.2 H545.3" stroke="#8a8a8a" stroke-width="0.8" fill="none"/>
<path d="M439.5 16.9 V88.0" stroke="#c4c4c4" stroke-width="0.9" fill="none"/>
<rect x="438.2" y="88" width="2.1" height="222.6" fill="#c6c6c6"/>
<path d="M545.3 16.1 V310.6" stroke="#555" stroke-width="0.7" fill="none"/>
<path d="M465.9 310.2 v-2 M465.9 17.1 v2 M492.4 310.2 v-2 M492.4 17.1 v2 M518.8 310.2 v-2 M518.8 17.1 v2 M439.5 62.3 h2.6 M545.3 62.3 h-2.6 M439.5 108.3 h2.6 M545.3 108.3 h-2.6 M439.5 154.2 h2.6 M545.3 154.2 h-2.6 M439.5 200.2 h2.6 M545.3 200.2 h-2.6 M439.5 246.2 h2.6 M545.3 246.2 h-2.6 M439.5 292.1 h2.6 M545.3 292.1 h-2.6" stroke="#555" stroke-width="0.7" fill="none"/>
<line x1="71.2" y1="364.2" x2="71.2" y2="416.9" stroke="#d6d6d6" stroke-width="0.7" stroke-dasharray="0.7 2.1"/>
<line x1="98.1" y1="364.2" x2="98.1" y2="416.9" stroke="#d6d6d6" stroke-width="0.7" stroke-dasharray="0.7 2.1"/>
<line x1="125.0" y1="364.2" x2="125.0" y2="416.9" stroke="#d6d6d6" stroke-width="0.7" stroke-dasharray="0.7 2.1"/>
<line x1="44.4" y1="390.3" x2="151.8" y2="390.3" stroke="#d6d6d6" stroke-width="0.7" stroke-dasharray="0.7 2.1"/>
<path d="M44.4 364.2 V416.9" stroke="#6a6a6a" stroke-width="0.8" fill="none"/>
<path d="M44.4 364.2 H151.8" stroke="#989898" stroke-width="0.8" fill="none"/>
<path d="M44.4 416.9 H151.8" stroke="#666" stroke-width="0.9" fill="none"/>
<path d="M151.8 364.2 V416.9" stroke="#b4b4b4" stroke-width="0.8" fill="none"/>
<path d="M44.6 382.8 C44.9 383.2 45.4 385.1 46.5 385.1 C47.6 385.1 49.6 383.1 51.2 382.8 C52.8 382.5 54.4 383.7 56.0 383.5 C57.6 383.3 58.7 382.9 60.7 381.6 C62.7 380.3 65.5 377.3 67.8 375.7 C70.1 374.1 72.2 373.0 74.8 372.1 C77.3 371.2 80.5 370.6 83.1 370.5 C85.7 370.4 87.7 370.8 90.2 371.7 C92.8 372.6 95.9 374.2 98.4 375.7 C101.0 377.1 103.1 379.1 105.5 380.4 C107.9 381.7 110.6 383.2 112.6 383.5 C114.6 383.8 115.5 383.4 117.3 382.3 C119.1 381.2 121.2 378.8 123.2 376.9 C125.2 375.0 127.1 372.7 129.1 371.0 C131.1 369.3 133.0 367.9 135.0 366.9 C137.0 365.9 139.3 365.5 140.9 365.1 C142.5 364.7 143.8 364.4 144.4 364.3" fill="none" stroke="#000" stroke-width="1.35"/>
<path d="M44.4 364.2 v2 M71.2 364.2 v2 M98.1 364.2 v2 M125.0 364.2 v2 M151.8 364.2 v2 M44.4 390.3 h2 M151.8 390.3 h-2" stroke="#555" stroke-width="0.7" fill="none"/>
<line x1="334.0" y1="364.2" x2="334.0" y2="416.9" stroke="#d6d6d6" stroke-width="0.7" stroke-dasharray="0.7 2.1"/>
<line x1="360.3" y1="364.2" x2="360.3" y2="416.9" stroke="#d6d6d6" stroke-width="0.7" stroke-dasharray="0.7 2.1"/>
<line x1="386.6" y1="364.2" x2="386.6" y2="416.9" stroke="#d6d6d6" stroke-width="0.7" stroke-dasharray="0.7 2.1"/>
<line x1="307.7" y1="390.3" x2="412.9" y2="390.3" stroke="#d6d6d6" stroke-width="0.7" stroke-dasharray="0.7 2.1"/>
<path d="M307.7 364.2 V416.9" stroke="#a0a0a0" stroke-width="0.8" fill="none"/>
<path d="M307.7 364.2 H412.9" stroke="#989898" stroke-width="0.8" fill="none"/>
<path d="M307.7 416.9 H412.9" stroke="#666" stroke-width="0.9" fill="none"/>
<path d="M412.9 364.2 V416.9" stroke="#b4b4b4" stroke-width="0.8" fill="none"/>
<path d="M307.6 400.2 C307.9 400.4 308.7 402.3 309.3 401.6 C309.9 400.9 310.6 398.0 311.4 395.8 C312.2 393.6 313.1 390.6 314.3 388.6 C315.5 386.6 316.9 385.3 318.6 383.6 C320.3 381.9 322.2 380.1 324.4 378.4 C326.6 376.7 329.0 374.9 331.7 373.5 C334.4 372.1 337.0 370.9 340.4 370.0 C343.8 369.1 348.1 368.4 352.0 368.2 C355.9 368.0 359.7 368.3 363.6 368.8 C367.5 369.3 371.8 370.3 375.2 371.1 C378.6 371.9 381.3 372.9 384.0 373.5 C386.7 374.1 389.0 374.9 391.2 374.9 C393.4 374.9 395.1 374.5 397.0 373.5 C398.9 372.5 400.9 370.4 402.8 368.8 C404.7 367.2 407.6 365.0 408.6 364.2" fill="none" stroke="#000" stroke-width="1.35"/>
<path d="M307.7 364.2 v2 M334.0 364.2 v2 M360.3 364.2 v2 M386.6 364.2 v2 M412.9 364.2 v2 M307.7 390.3 h2 M412.9 390.3 h-2" stroke="#555" stroke-width="0.7" fill="none"/>
<g font-family="Liberation Sans, Arial, Helvetica, sans-serif" fill="#000" stroke="#000" stroke-width="0.22">
<text x="99.4" y="9.5" font-size="11.7" text-anchor="middle" >Conditional realizations</text>
<text x="228.3" y="9.5" font-size="11.7" text-anchor="middle" >Posterior distribution</text>
<text x="360.8" y="10.3" font-size="11.7" text-anchor="middle" >Conditional realizations</text>
<text x="493.8" y="10.3" font-size="11.7" text-anchor="middle" >Posterior distribution</text>
<text x="40.0" y="20.1" font-size="10.0" text-anchor="end" >2050</text>
<text x="40.0" y="65.4" font-size="10.0" text-anchor="end" >2060</text>
<text x="40.0" y="110.7" font-size="10.0" text-anchor="end" >2070</text>
<text x="40.0" y="156.0" font-size="10.0" text-anchor="end" >2080</text>
<text x="40.0" y="201.3" font-size="10.0" text-anchor="end" >2090</text>
<text x="40.0" y="246.6" font-size="10.0" text-anchor="end" >2100</text>
<text x="40.0" y="291.9" font-size="10.0" text-anchor="end" >2110</text>
<text x="44.4" y="323.4" font-size="10.0" text-anchor="middle" >0</text>
<text x="71.2" y="323.4" font-size="10.0" text-anchor="middle" >0.1</text>
<text x="98.1" y="323.4" font-size="10.0" text-anchor="middle" >0.2</text>
<text x="125.0" y="323.4" font-size="10.0" text-anchor="middle" >0.3</text>
<text x="151.8" y="323.4" font-size="10.0" text-anchor="middle" >0.4</text>
<text x="98.1" y="337.1" font-size="11.6" text-anchor="middle" >Porosity (v/v)</text>
<text x="176.3" y="323.4" font-size="10.0" text-anchor="middle" >0</text>
<text x="202.9" y="323.4" font-size="10.0" text-anchor="middle" >0.1</text>
<text x="229.6" y="323.4" font-size="10.0" text-anchor="middle" >0.2</text>
<text x="256.2" y="323.4" font-size="10.0" text-anchor="middle" >0.3</text>
<text x="282.9" y="323.4" font-size="10.0" text-anchor="middle" >0.4</text>
<text x="227.2" y="337.1" font-size="11.6" text-anchor="middle" >Porosity (v/v)</text>
<text x="307.7" y="323.4" font-size="10.0" text-anchor="middle" >0</text>
<text x="334.0" y="323.4" font-size="10.0" text-anchor="middle" >0.2</text>
<text x="360.3" y="323.4" font-size="10.0" text-anchor="middle" >0.4</text>
<text x="386.6" y="323.4" font-size="10.0" text-anchor="middle" >0.6</text>
<text x="412.9" y="323.4" font-size="10.0" text-anchor="middle" >0.8</text>
<text x="361.1" y="337.1" font-size="11.6" text-anchor="middle" >Clay volume (v/v)</text>
<text x="439.5" y="323.4" font-size="10.0" text-anchor="middle" >0</text>
<text x="465.9" y="323.4" font-size="10.0" text-anchor="middle" >0.2</text>
<text x="492.4" y="323.4" font-size="10.0" text-anchor="middle" >0.4</text>
<text x="518.8" y="323.4" font-size="10.0" text-anchor="middle" >0.6</text>
<text x="545.3" y="323.4" font-size="10.0" text-anchor="middle" >0.8</text>
<text x="493.2" y="337.1" font-size="11.6" text-anchor="middle" >Clay volume (v/v)</text>
<text x="44.4" y="359.6" font-size="10.0" text-anchor="middle" >0</text>
<text x="71.2" y="359.6" font-size="10.0" text-anchor="middle" >0.1</text>
<text x="98.1" y="359.6" font-size="10.0" text-anchor="middle" >0.2</text>
<text x="125.0" y="359.6" font-size="10.0" text-anchor="middle" >0.3</text>
<text x="151.8" y="359.6" font-size="10.0" text-anchor="middle" >0.4</text>
<text transform="translate(27.0,389.6) rotate(-90)" font-size="10.9" text-anchor="middle">Probability</text>
<text transform="translate(40.3,390.2) rotate(-90)" font-size="10.9" text-anchor="middle">density</text>
<text x="307.7" y="359.6" font-size="10.0" text-anchor="middle" >0</text>
<text x="334.0" y="359.6" font-size="10.0" text-anchor="middle" >0.2</text>
<text x="360.3" y="359.6" font-size="10.0" text-anchor="middle" >0.4</text>
<text x="386.6" y="359.6" font-size="10.0" text-anchor="middle" >0.6</text>
<text x="412.9" y="359.6" font-size="10.0" text-anchor="middle" >0.8</text>
<text transform="translate(286.2,389.6) rotate(-90)" font-size="10.9" text-anchor="middle">Probability</text>
<text transform="translate(299.5,390.2) rotate(-90)" font-size="10.9" text-anchor="middle">density</text>
<text transform="translate(9.2,161.5) rotate(-90)" font-size="11.8" text-anchor="middle">Depth (m)</text>
</g>
</svg>
</body></html>
